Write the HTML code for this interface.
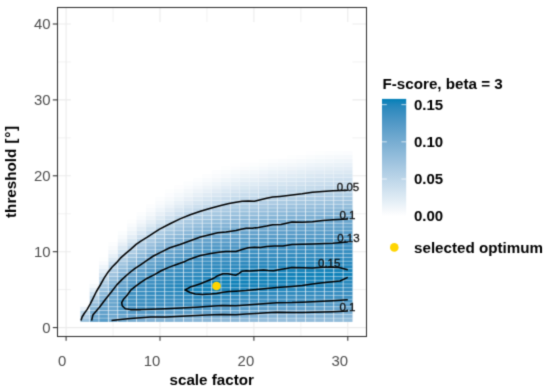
<!DOCTYPE html>
<html><head><meta charset="utf-8"><title>F-score heatmap</title><style>html,body{margin:0;padding:0;background:#fff;}svg{display:block;filter:none;}</style></head><body>
<svg width="550" height="392" viewBox="0 0 550 392">
<defs><filter id="soft" x="0" y="0" width="550" height="392" filterUnits="userSpaceOnUse" color-interpolation-filters="sRGB"><feConvolveMatrix order="3" kernelMatrix="0.0225 0.1050 0.0225 0.1050 0.4900 0.1050 0.0225 0.1050 0.0225" divisor="1" edgeMode="duplicate"/></filter></defs>
<g filter="url(#soft)">
<rect x="0" y="0" width="550" height="392" fill="#FFFFFF"/>
<g stroke="#EDEDED" stroke-width="0.75"><line x1="113.05" y1="7.5" x2="113.05" y2="336.5"/><line x1="206.95" y1="7.5" x2="206.95" y2="336.5"/><line x1="300.85" y1="7.5" x2="300.85" y2="336.5"/><line x1="57.5" y1="289.65" x2="366.5" y2="289.65"/><line x1="57.5" y1="213.75" x2="366.5" y2="213.75"/><line x1="57.5" y1="137.85" x2="366.5" y2="137.85"/><line x1="57.5" y1="61.95" x2="366.5" y2="61.95"/></g>
<g stroke="#EBEBEB" stroke-width="1.07"><line x1="66.10" y1="7.5" x2="66.10" y2="336.5"/><line x1="160.00" y1="7.5" x2="160.00" y2="336.5"/><line x1="253.90" y1="7.5" x2="253.90" y2="336.5"/><line x1="347.80" y1="7.5" x2="347.80" y2="336.5"/><line x1="57.5" y1="327.60" x2="366.5" y2="327.60"/><line x1="57.5" y1="251.70" x2="366.5" y2="251.70"/><line x1="57.5" y1="175.80" x2="366.5" y2="175.80"/><line x1="57.5" y1="99.90" x2="366.5" y2="99.90"/><line x1="57.5" y1="24.00" x2="366.5" y2="24.00"/></g>
<rect x="70.79" y="22.10" width="281.70" height="299.81" fill="#FFFFFF"/>
<g><rect x="80.19" y="318.11" width="9.39" height="3.79" fill="#9ac1dd"/><rect x="80.19" y="314.32" width="9.39" height="3.79" fill="#aacae2"/><rect x="80.19" y="310.52" width="9.39" height="3.79" fill="#bbd5e8"/><rect x="80.19" y="306.73" width="9.39" height="3.79" fill="#e9f1f8"/><rect x="80.19" y="302.93" width="9.39" height="3.79" fill="#fdfefe"/><rect x="89.57" y="318.11" width="9.39" height="3.79" fill="#68a4cd"/><rect x="89.57" y="314.32" width="9.39" height="3.79" fill="#6da7cf"/><rect x="89.57" y="310.52" width="9.39" height="3.79" fill="#74abd1"/><rect x="89.57" y="306.73" width="9.39" height="3.79" fill="#84b4d6"/><rect x="89.57" y="302.93" width="9.39" height="3.79" fill="#94bddb"/><rect x="89.57" y="299.14" width="9.39" height="3.79" fill="#a4c7e0"/><rect x="89.57" y="295.34" width="9.39" height="3.79" fill="#b4d0e6"/><rect x="89.57" y="291.55" width="9.39" height="3.79" fill="#ccdfee"/><rect x="89.57" y="287.75" width="9.39" height="3.79" fill="#e4eef6"/><rect x="89.57" y="283.96" width="9.39" height="3.79" fill="#f4f8fb"/><rect x="89.57" y="280.16" width="9.39" height="3.79" fill="#fcfdfe"/><rect x="98.97" y="318.11" width="9.39" height="3.79" fill="#579cc8"/><rect x="98.97" y="314.32" width="9.39" height="3.79" fill="#5d9fca"/><rect x="98.97" y="310.52" width="9.39" height="3.79" fill="#62a1cb"/><rect x="98.97" y="306.73" width="9.39" height="3.79" fill="#67a4cd"/><rect x="98.97" y="302.93" width="9.39" height="3.79" fill="#6ca7cf"/><rect x="98.97" y="299.14" width="9.39" height="3.79" fill="#73aad1"/><rect x="98.97" y="295.34" width="9.39" height="3.79" fill="#7fb1d4"/><rect x="98.97" y="291.55" width="9.39" height="3.79" fill="#8bb8d8"/><rect x="98.97" y="287.75" width="9.39" height="3.79" fill="#97bfdc"/><rect x="98.97" y="283.96" width="9.39" height="3.79" fill="#a3c6e0"/><rect x="98.97" y="280.16" width="9.39" height="3.79" fill="#b0cee4"/><rect x="98.97" y="276.37" width="9.39" height="3.79" fill="#bed6e9"/><rect x="98.97" y="272.57" width="9.39" height="3.79" fill="#d3e3f0"/><rect x="98.97" y="268.78" width="9.39" height="3.79" fill="#e3edf6"/><rect x="98.97" y="264.98" width="9.39" height="3.79" fill="#eff5fa"/><rect x="98.97" y="261.19" width="9.39" height="3.79" fill="#f8fafd"/><rect x="98.97" y="257.39" width="9.39" height="3.79" fill="#fdfefe"/><rect x="108.35" y="318.11" width="9.39" height="3.79" fill="#70a9d0"/><rect x="108.35" y="314.32" width="9.39" height="3.79" fill="#6ea8cf"/><rect x="108.35" y="310.52" width="9.39" height="3.79" fill="#6ca7cf"/><rect x="108.35" y="306.73" width="9.39" height="3.79" fill="#6aa6ce"/><rect x="108.35" y="302.93" width="9.39" height="3.79" fill="#68a5cd"/><rect x="108.35" y="299.14" width="9.39" height="3.79" fill="#6aa6ce"/><rect x="108.35" y="295.34" width="9.39" height="3.79" fill="#6ca7cf"/><rect x="108.35" y="291.55" width="9.39" height="3.79" fill="#6fa8cf"/><rect x="108.35" y="287.75" width="9.39" height="3.79" fill="#71a9d0"/><rect x="108.35" y="283.96" width="9.39" height="3.79" fill="#7db0d4"/><rect x="108.35" y="280.16" width="9.39" height="3.79" fill="#89b7d7"/><rect x="108.35" y="276.37" width="9.39" height="3.79" fill="#94bddb"/><rect x="108.35" y="272.57" width="9.39" height="3.79" fill="#a0c4df"/><rect x="108.35" y="268.78" width="9.39" height="3.79" fill="#accbe3"/><rect x="108.35" y="264.98" width="9.39" height="3.79" fill="#b7d2e7"/><rect x="108.35" y="261.19" width="9.39" height="3.79" fill="#c9dded"/><rect x="108.35" y="257.39" width="9.39" height="3.79" fill="#dae8f2"/><rect x="108.35" y="253.60" width="9.39" height="3.79" fill="#e7f0f7"/><rect x="108.35" y="249.80" width="9.39" height="3.79" fill="#f1f6fa"/><rect x="108.35" y="246.01" width="9.39" height="3.79" fill="#f8fafc"/><rect x="108.35" y="242.21" width="9.39" height="3.79" fill="#fcfdfe"/><rect x="117.75" y="318.11" width="9.39" height="3.79" fill="#73abd1"/><rect x="117.75" y="314.32" width="9.39" height="3.79" fill="#66a4cd"/><rect x="117.75" y="310.52" width="9.39" height="3.79" fill="#5a9dc9"/><rect x="117.75" y="306.73" width="9.39" height="3.79" fill="#4d97c5"/><rect x="117.75" y="302.93" width="9.39" height="3.79" fill="#4392c3"/><rect x="117.75" y="299.14" width="9.39" height="3.79" fill="#4393c3"/><rect x="117.75" y="295.34" width="9.39" height="3.79" fill="#4c96c5"/><rect x="117.75" y="291.55" width="9.39" height="3.79" fill="#539ac7"/><rect x="117.75" y="287.75" width="9.39" height="3.79" fill="#5b9ec9"/><rect x="117.75" y="283.96" width="9.39" height="3.79" fill="#63a2cc"/><rect x="117.75" y="280.16" width="9.39" height="3.79" fill="#6ba6ce"/><rect x="117.75" y="276.37" width="9.39" height="3.79" fill="#73abd1"/><rect x="117.75" y="272.57" width="9.39" height="3.79" fill="#7fb1d5"/><rect x="117.75" y="268.78" width="9.39" height="3.79" fill="#8cb8d8"/><rect x="117.75" y="264.98" width="9.39" height="3.79" fill="#98c0dc"/><rect x="117.75" y="261.19" width="9.39" height="3.79" fill="#a4c7e0"/><rect x="117.75" y="257.39" width="9.39" height="3.79" fill="#b0cee4"/><rect x="117.75" y="253.60" width="9.39" height="3.79" fill="#bed6e9"/><rect x="117.75" y="249.80" width="9.39" height="3.79" fill="#cee1ef"/><rect x="117.75" y="246.01" width="9.39" height="3.79" fill="#dce9f3"/><rect x="117.75" y="242.21" width="9.39" height="3.79" fill="#e8f0f7"/><rect x="117.75" y="238.42" width="9.39" height="3.79" fill="#f1f6fa"/><rect x="117.75" y="234.62" width="9.39" height="3.79" fill="#f7fafc"/><rect x="117.75" y="230.83" width="9.39" height="3.79" fill="#fbfdfe"/><rect x="127.13" y="318.11" width="9.39" height="3.79" fill="#79aed2"/><rect x="127.13" y="314.32" width="9.39" height="3.79" fill="#66a3cd"/><rect x="127.13" y="310.52" width="9.39" height="3.79" fill="#5299c7"/><rect x="127.13" y="306.73" width="9.39" height="3.79" fill="#4392c3"/><rect x="127.13" y="302.93" width="9.39" height="3.79" fill="#4191c2"/><rect x="127.13" y="299.14" width="9.39" height="3.79" fill="#3f91c2"/><rect x="127.13" y="295.34" width="9.39" height="3.79" fill="#3f91c2"/><rect x="127.13" y="291.55" width="9.39" height="3.79" fill="#4192c2"/><rect x="127.13" y="287.75" width="9.39" height="3.79" fill="#4392c3"/><rect x="127.13" y="283.96" width="9.39" height="3.79" fill="#4c96c5"/><rect x="127.13" y="280.16" width="9.39" height="3.79" fill="#559bc8"/><rect x="127.13" y="276.37" width="9.39" height="3.79" fill="#5fa0cb"/><rect x="127.13" y="272.57" width="9.39" height="3.79" fill="#68a5cd"/><rect x="127.13" y="268.78" width="9.39" height="3.79" fill="#72aad0"/><rect x="127.13" y="264.98" width="9.39" height="3.79" fill="#7eb1d4"/><rect x="127.13" y="261.19" width="9.39" height="3.79" fill="#8ab7d8"/><rect x="127.13" y="257.39" width="9.39" height="3.79" fill="#96bfdc"/><rect x="127.13" y="253.60" width="9.39" height="3.79" fill="#a2c6e0"/><rect x="127.13" y="249.80" width="9.39" height="3.79" fill="#aecde4"/><rect x="127.13" y="246.01" width="9.39" height="3.79" fill="#bbd4e8"/><rect x="127.13" y="242.21" width="9.39" height="3.79" fill="#cbdeed"/><rect x="127.13" y="238.42" width="9.39" height="3.79" fill="#d9e7f2"/><rect x="127.13" y="234.62" width="9.39" height="3.79" fill="#e4eef6"/><rect x="127.13" y="230.83" width="9.39" height="3.79" fill="#edf4f9"/><rect x="127.13" y="227.03" width="9.39" height="3.79" fill="#f4f8fb"/><rect x="127.13" y="223.24" width="9.39" height="3.79" fill="#f9fbfd"/><rect x="127.13" y="219.44" width="9.39" height="3.79" fill="#fdfefe"/><rect x="136.53" y="318.11" width="9.39" height="3.79" fill="#7db0d4"/><rect x="136.53" y="314.32" width="9.39" height="3.79" fill="#69a5cd"/><rect x="136.53" y="310.52" width="9.39" height="3.79" fill="#549ac7"/><rect x="136.53" y="306.73" width="9.39" height="3.79" fill="#4292c3"/><rect x="136.53" y="302.93" width="9.39" height="3.79" fill="#4091c2"/><rect x="136.53" y="299.14" width="9.39" height="3.79" fill="#3d90c1"/><rect x="136.53" y="295.34" width="9.39" height="3.79" fill="#3a8fc1"/><rect x="136.53" y="291.55" width="9.39" height="3.79" fill="#3b8fc1"/><rect x="136.53" y="287.75" width="9.39" height="3.79" fill="#3e90c1"/><rect x="136.53" y="283.96" width="9.39" height="3.79" fill="#4091c2"/><rect x="136.53" y="280.16" width="9.39" height="3.79" fill="#4393c3"/><rect x="136.53" y="276.37" width="9.39" height="3.79" fill="#4d97c6"/><rect x="136.53" y="272.57" width="9.39" height="3.79" fill="#579cc8"/><rect x="136.53" y="268.78" width="9.39" height="3.79" fill="#61a1cb"/><rect x="136.53" y="264.98" width="9.39" height="3.79" fill="#6aa6ce"/><rect x="136.53" y="261.19" width="9.39" height="3.79" fill="#75abd1"/><rect x="136.53" y="257.39" width="9.39" height="3.79" fill="#80b2d5"/><rect x="136.53" y="253.60" width="9.39" height="3.79" fill="#8cb9d9"/><rect x="136.53" y="249.80" width="9.39" height="3.79" fill="#98c0dc"/><rect x="136.53" y="246.01" width="9.39" height="3.79" fill="#a4c6e0"/><rect x="136.53" y="242.21" width="9.39" height="3.79" fill="#afcde4"/><rect x="136.53" y="238.42" width="9.39" height="3.79" fill="#bbd5e8"/><rect x="136.53" y="234.62" width="9.39" height="3.79" fill="#cbdeed"/><rect x="136.53" y="230.83" width="9.39" height="3.79" fill="#d8e6f2"/><rect x="136.53" y="227.03" width="9.39" height="3.79" fill="#e3edf5"/><rect x="136.53" y="223.24" width="9.39" height="3.79" fill="#ecf3f8"/><rect x="136.53" y="219.44" width="9.39" height="3.79" fill="#f3f7fb"/><rect x="136.53" y="215.65" width="9.39" height="3.79" fill="#f8fbfd"/><rect x="136.53" y="211.85" width="9.39" height="3.79" fill="#fcfdfe"/><rect x="145.91" y="318.11" width="9.39" height="3.79" fill="#81b2d5"/><rect x="145.91" y="314.32" width="9.39" height="3.79" fill="#6ca6ce"/><rect x="145.91" y="310.52" width="9.39" height="3.79" fill="#569bc8"/><rect x="145.91" y="306.73" width="9.39" height="3.79" fill="#4292c3"/><rect x="145.91" y="302.93" width="9.39" height="3.79" fill="#3f91c2"/><rect x="145.91" y="299.14" width="9.39" height="3.79" fill="#3b8fc1"/><rect x="145.91" y="295.34" width="9.39" height="3.79" fill="#388ec0"/><rect x="145.91" y="291.55" width="9.39" height="3.79" fill="#348cbf"/><rect x="145.91" y="287.75" width="9.39" height="3.79" fill="#378dc0"/><rect x="145.91" y="283.96" width="9.39" height="3.79" fill="#3a8fc1"/><rect x="145.91" y="280.16" width="9.39" height="3.79" fill="#3e90c2"/><rect x="145.91" y="276.37" width="9.39" height="3.79" fill="#4192c2"/><rect x="145.91" y="272.57" width="9.39" height="3.79" fill="#4895c4"/><rect x="145.91" y="268.78" width="9.39" height="3.79" fill="#5299c7"/><rect x="145.91" y="264.98" width="9.39" height="3.79" fill="#5b9ec9"/><rect x="145.91" y="261.19" width="9.39" height="3.79" fill="#64a3cc"/><rect x="145.91" y="257.39" width="9.39" height="3.79" fill="#6da7cf"/><rect x="145.91" y="253.60" width="9.39" height="3.79" fill="#78add2"/><rect x="145.91" y="249.80" width="9.39" height="3.79" fill="#84b4d6"/><rect x="145.91" y="246.01" width="9.39" height="3.79" fill="#91bbda"/><rect x="145.91" y="242.21" width="9.39" height="3.79" fill="#9dc2de"/><rect x="145.91" y="238.42" width="9.39" height="3.79" fill="#a9c9e2"/><rect x="145.91" y="234.62" width="9.39" height="3.79" fill="#b4d1e6"/><rect x="145.91" y="230.83" width="9.39" height="3.79" fill="#c2d9eb"/><rect x="145.91" y="227.03" width="9.39" height="3.79" fill="#d0e2ef"/><rect x="145.91" y="223.24" width="9.39" height="3.79" fill="#dce9f3"/><rect x="145.91" y="219.44" width="9.39" height="3.79" fill="#e6eff6"/><rect x="145.91" y="215.65" width="9.39" height="3.79" fill="#eef4f9"/><rect x="145.91" y="211.85" width="9.39" height="3.79" fill="#f4f8fb"/><rect x="145.91" y="208.06" width="9.39" height="3.79" fill="#f9fbfd"/><rect x="145.91" y="204.26" width="9.39" height="3.79" fill="#fcfdfe"/><rect x="155.31" y="318.11" width="9.39" height="3.79" fill="#81b3d5"/><rect x="155.31" y="314.32" width="9.39" height="3.79" fill="#6ca7cf"/><rect x="155.31" y="310.52" width="9.39" height="3.79" fill="#579cc8"/><rect x="155.31" y="306.73" width="9.39" height="3.79" fill="#4392c3"/><rect x="155.31" y="302.93" width="9.39" height="3.79" fill="#3f90c2"/><rect x="155.31" y="299.14" width="9.39" height="3.79" fill="#3a8fc1"/><rect x="155.31" y="295.34" width="9.39" height="3.79" fill="#368dc0"/><rect x="155.31" y="291.55" width="9.39" height="3.79" fill="#328bbf"/><rect x="155.31" y="287.75" width="9.39" height="3.79" fill="#2f8abe"/><rect x="155.31" y="283.96" width="9.39" height="3.79" fill="#338cbf"/><rect x="155.31" y="280.16" width="9.39" height="3.79" fill="#388ec0"/><rect x="155.31" y="276.37" width="9.39" height="3.79" fill="#3c8fc1"/><rect x="155.31" y="272.57" width="9.39" height="3.79" fill="#4091c2"/><rect x="155.31" y="268.78" width="9.39" height="3.79" fill="#4593c3"/><rect x="155.31" y="264.98" width="9.39" height="3.79" fill="#4e98c6"/><rect x="155.31" y="261.19" width="9.39" height="3.79" fill="#589cc8"/><rect x="155.31" y="257.39" width="9.39" height="3.79" fill="#61a1cb"/><rect x="155.31" y="253.60" width="9.39" height="3.79" fill="#6aa6ce"/><rect x="155.31" y="249.80" width="9.39" height="3.79" fill="#74abd1"/><rect x="155.31" y="246.01" width="9.39" height="3.79" fill="#7fb1d5"/><rect x="155.31" y="242.21" width="9.39" height="3.79" fill="#8bb8d8"/><rect x="155.31" y="238.42" width="9.39" height="3.79" fill="#97bfdc"/><rect x="155.31" y="234.62" width="9.39" height="3.79" fill="#a2c6e0"/><rect x="155.31" y="230.83" width="9.39" height="3.79" fill="#aecde4"/><rect x="155.31" y="227.03" width="9.39" height="3.79" fill="#b9d4e7"/><rect x="155.31" y="223.24" width="9.39" height="3.79" fill="#c7dcec"/><rect x="155.31" y="219.44" width="9.39" height="3.79" fill="#d4e4f0"/><rect x="155.31" y="215.65" width="9.39" height="3.79" fill="#dfebf4"/><rect x="155.31" y="211.85" width="9.39" height="3.79" fill="#e8f0f7"/><rect x="155.31" y="208.06" width="9.39" height="3.79" fill="#eff5fa"/><rect x="155.31" y="204.26" width="9.39" height="3.79" fill="#f5f9fc"/><rect x="155.31" y="200.47" width="9.39" height="3.79" fill="#f9fbfd"/><rect x="155.31" y="196.67" width="9.39" height="3.79" fill="#fcfdfe"/><rect x="164.69" y="318.11" width="9.39" height="3.79" fill="#82b3d5"/><rect x="164.69" y="314.32" width="9.39" height="3.79" fill="#6da8cf"/><rect x="164.69" y="310.52" width="9.39" height="3.79" fill="#599dc9"/><rect x="164.69" y="306.73" width="9.39" height="3.79" fill="#4392c3"/><rect x="164.69" y="302.93" width="9.39" height="3.79" fill="#3e90c2"/><rect x="164.69" y="299.14" width="9.39" height="3.79" fill="#3a8ec1"/><rect x="164.69" y="295.34" width="9.39" height="3.79" fill="#358dbf"/><rect x="164.69" y="291.55" width="9.39" height="3.79" fill="#308bbe"/><rect x="164.69" y="287.75" width="9.39" height="3.79" fill="#2b89bd"/><rect x="164.69" y="283.96" width="9.39" height="3.79" fill="#2b89bd"/><rect x="164.69" y="280.16" width="9.39" height="3.79" fill="#308bbe"/><rect x="164.69" y="276.37" width="9.39" height="3.79" fill="#358dbf"/><rect x="164.69" y="272.57" width="9.39" height="3.79" fill="#3a8fc1"/><rect x="164.69" y="268.78" width="9.39" height="3.79" fill="#3f91c2"/><rect x="164.69" y="264.98" width="9.39" height="3.79" fill="#4493c3"/><rect x="164.69" y="261.19" width="9.39" height="3.79" fill="#4d97c5"/><rect x="164.69" y="257.39" width="9.39" height="3.79" fill="#569bc8"/><rect x="164.69" y="253.60" width="9.39" height="3.79" fill="#5fa0cb"/><rect x="164.69" y="249.80" width="9.39" height="3.79" fill="#68a5cd"/><rect x="164.69" y="246.01" width="9.39" height="3.79" fill="#71a9d0"/><rect x="164.69" y="242.21" width="9.39" height="3.79" fill="#7db0d4"/><rect x="164.69" y="238.42" width="9.39" height="3.79" fill="#88b6d7"/><rect x="164.69" y="234.62" width="9.39" height="3.79" fill="#94bddb"/><rect x="164.69" y="230.83" width="9.39" height="3.79" fill="#9fc4df"/><rect x="164.69" y="227.03" width="9.39" height="3.79" fill="#abcbe3"/><rect x="164.69" y="223.24" width="9.39" height="3.79" fill="#b6d2e6"/><rect x="164.69" y="219.44" width="9.39" height="3.79" fill="#c3daeb"/><rect x="164.69" y="215.65" width="9.39" height="3.79" fill="#d0e1ef"/><rect x="164.69" y="211.85" width="9.39" height="3.79" fill="#dbe8f3"/><rect x="164.69" y="208.06" width="9.39" height="3.79" fill="#e4eef6"/><rect x="164.69" y="204.26" width="9.39" height="3.79" fill="#ecf3f9"/><rect x="164.69" y="200.47" width="9.39" height="3.79" fill="#f2f7fb"/><rect x="164.69" y="196.67" width="9.39" height="3.79" fill="#f7fafc"/><rect x="164.69" y="192.88" width="9.39" height="3.79" fill="#fbfcfe"/><rect x="164.69" y="189.08" width="9.39" height="3.79" fill="#fdfefe"/><rect x="174.09" y="318.11" width="9.39" height="3.79" fill="#83b4d6"/><rect x="174.09" y="314.32" width="9.39" height="3.79" fill="#6fa9cf"/><rect x="174.09" y="310.52" width="9.39" height="3.79" fill="#5b9ec9"/><rect x="174.09" y="306.73" width="9.39" height="3.79" fill="#4694c4"/><rect x="174.09" y="302.93" width="9.39" height="3.79" fill="#3f90c2"/><rect x="174.09" y="299.14" width="9.39" height="3.79" fill="#398ec0"/><rect x="174.09" y="295.34" width="9.39" height="3.79" fill="#348cbf"/><rect x="174.09" y="291.55" width="9.39" height="3.79" fill="#2e8abe"/><rect x="174.09" y="287.75" width="9.39" height="3.79" fill="#2888bd"/><rect x="174.09" y="283.96" width="9.39" height="3.79" fill="#2286bc"/><rect x="174.09" y="280.16" width="9.39" height="3.79" fill="#2988bd"/><rect x="174.09" y="276.37" width="9.39" height="3.79" fill="#2f8abe"/><rect x="174.09" y="272.57" width="9.39" height="3.79" fill="#348cbf"/><rect x="174.09" y="268.78" width="9.39" height="3.79" fill="#3a8ec0"/><rect x="174.09" y="264.98" width="9.39" height="3.79" fill="#3f91c2"/><rect x="174.09" y="261.19" width="9.39" height="3.79" fill="#4593c3"/><rect x="174.09" y="257.39" width="9.39" height="3.79" fill="#4e98c6"/><rect x="174.09" y="253.60" width="9.39" height="3.79" fill="#579cc8"/><rect x="174.09" y="249.80" width="9.39" height="3.79" fill="#61a1cb"/><rect x="174.09" y="246.01" width="9.39" height="3.79" fill="#6aa5ce"/><rect x="174.09" y="242.21" width="9.39" height="3.79" fill="#73aad1"/><rect x="174.09" y="238.42" width="9.39" height="3.79" fill="#7eb1d4"/><rect x="174.09" y="234.62" width="9.39" height="3.79" fill="#89b7d8"/><rect x="174.09" y="230.83" width="9.39" height="3.79" fill="#94bddb"/><rect x="174.09" y="227.03" width="9.39" height="3.79" fill="#9fc3df"/><rect x="174.09" y="223.24" width="9.39" height="3.79" fill="#a9cae2"/><rect x="174.09" y="219.44" width="9.39" height="3.79" fill="#b4d0e6"/><rect x="174.09" y="215.65" width="9.39" height="3.79" fill="#c0d8ea"/><rect x="174.09" y="211.85" width="9.39" height="3.79" fill="#cddfee"/><rect x="174.09" y="208.06" width="9.39" height="3.79" fill="#d8e6f2"/><rect x="174.09" y="204.26" width="9.39" height="3.79" fill="#e1ecf5"/><rect x="174.09" y="200.47" width="9.39" height="3.79" fill="#e9f1f8"/><rect x="174.09" y="196.67" width="9.39" height="3.79" fill="#f0f6fa"/><rect x="174.09" y="192.88" width="9.39" height="3.79" fill="#f5f9fc"/><rect x="174.09" y="189.08" width="9.39" height="3.79" fill="#fafcfd"/><rect x="174.09" y="185.29" width="9.39" height="3.79" fill="#fdfdfe"/><rect x="183.47" y="318.11" width="9.39" height="3.79" fill="#86b5d7"/><rect x="183.47" y="314.32" width="9.39" height="3.79" fill="#72aad0"/><rect x="183.47" y="310.52" width="9.39" height="3.79" fill="#5e9fca"/><rect x="183.47" y="306.73" width="9.39" height="3.79" fill="#4995c4"/><rect x="183.47" y="302.93" width="9.39" height="3.79" fill="#3d90c1"/><rect x="183.47" y="299.14" width="9.39" height="3.79" fill="#358dbf"/><rect x="183.47" y="295.34" width="9.39" height="3.79" fill="#2d89be"/><rect x="183.47" y="291.55" width="9.39" height="3.79" fill="#2386bc"/><rect x="183.47" y="287.75" width="9.39" height="3.79" fill="#1b84ba"/><rect x="183.47" y="283.96" width="9.39" height="3.79" fill="#2286bb"/><rect x="183.47" y="280.16" width="9.39" height="3.79" fill="#2788bd"/><rect x="183.47" y="276.37" width="9.39" height="3.79" fill="#2d89be"/><rect x="183.47" y="272.57" width="9.39" height="3.79" fill="#328bbf"/><rect x="183.47" y="268.78" width="9.39" height="3.79" fill="#368dc0"/><rect x="183.47" y="264.98" width="9.39" height="3.79" fill="#3b8fc1"/><rect x="183.47" y="261.19" width="9.39" height="3.79" fill="#3f91c2"/><rect x="183.47" y="257.39" width="9.39" height="3.79" fill="#4593c3"/><rect x="183.47" y="253.60" width="9.39" height="3.79" fill="#4e98c6"/><rect x="183.47" y="249.80" width="9.39" height="3.79" fill="#589cc8"/><rect x="183.47" y="246.01" width="9.39" height="3.79" fill="#61a1cb"/><rect x="183.47" y="242.21" width="9.39" height="3.79" fill="#6aa6ce"/><rect x="183.47" y="238.42" width="9.39" height="3.79" fill="#74abd1"/><rect x="183.47" y="234.62" width="9.39" height="3.79" fill="#7fb1d4"/><rect x="183.47" y="230.83" width="9.39" height="3.79" fill="#89b7d8"/><rect x="183.47" y="227.03" width="9.39" height="3.79" fill="#94bddb"/><rect x="183.47" y="223.24" width="9.39" height="3.79" fill="#9fc4df"/><rect x="183.47" y="219.44" width="9.39" height="3.79" fill="#a9cae2"/><rect x="183.47" y="215.65" width="9.39" height="3.79" fill="#b4d0e6"/><rect x="183.47" y="211.85" width="9.39" height="3.79" fill="#c0d7ea"/><rect x="183.47" y="208.06" width="9.39" height="3.79" fill="#ccdfee"/><rect x="183.47" y="204.26" width="9.39" height="3.79" fill="#d6e5f1"/><rect x="183.47" y="200.47" width="9.39" height="3.79" fill="#e0ebf4"/><rect x="183.47" y="196.67" width="9.39" height="3.79" fill="#e8f0f7"/><rect x="183.47" y="192.88" width="9.39" height="3.79" fill="#eff5f9"/><rect x="183.47" y="189.08" width="9.39" height="3.79" fill="#f4f8fb"/><rect x="183.47" y="185.29" width="9.39" height="3.79" fill="#f9fbfd"/><rect x="183.47" y="181.49" width="9.39" height="3.79" fill="#fcfdfe"/><rect x="192.87" y="318.11" width="9.39" height="3.79" fill="#88b6d7"/><rect x="192.87" y="314.32" width="9.39" height="3.79" fill="#74abd1"/><rect x="192.87" y="310.52" width="9.39" height="3.79" fill="#60a0cb"/><rect x="192.87" y="306.73" width="9.39" height="3.79" fill="#4b96c5"/><rect x="192.87" y="302.93" width="9.39" height="3.79" fill="#3d90c1"/><rect x="192.87" y="299.14" width="9.39" height="3.79" fill="#338cbf"/><rect x="192.87" y="295.34" width="9.39" height="3.79" fill="#2888bd"/><rect x="192.87" y="291.55" width="9.39" height="3.79" fill="#1c84bb"/><rect x="192.87" y="287.75" width="9.39" height="3.79" fill="#1482b9"/><rect x="192.87" y="283.96" width="9.39" height="3.79" fill="#1b84ba"/><rect x="192.87" y="280.16" width="9.39" height="3.79" fill="#2286bc"/><rect x="192.87" y="276.37" width="9.39" height="3.79" fill="#2888bd"/><rect x="192.87" y="272.57" width="9.39" height="3.79" fill="#2d8abe"/><rect x="192.87" y="268.78" width="9.39" height="3.79" fill="#328bbf"/><rect x="192.87" y="264.98" width="9.39" height="3.79" fill="#378dc0"/><rect x="192.87" y="261.19" width="9.39" height="3.79" fill="#3b8fc1"/><rect x="192.87" y="257.39" width="9.39" height="3.79" fill="#4091c2"/><rect x="192.87" y="253.60" width="9.39" height="3.79" fill="#4594c3"/><rect x="192.87" y="249.80" width="9.39" height="3.79" fill="#4f98c6"/><rect x="192.87" y="246.01" width="9.39" height="3.79" fill="#599dc9"/><rect x="192.87" y="242.21" width="9.39" height="3.79" fill="#62a1cb"/><rect x="192.87" y="238.42" width="9.39" height="3.79" fill="#6ba6ce"/><rect x="192.87" y="234.62" width="9.39" height="3.79" fill="#75acd1"/><rect x="192.87" y="230.83" width="9.39" height="3.79" fill="#80b2d5"/><rect x="192.87" y="227.03" width="9.39" height="3.79" fill="#8bb8d8"/><rect x="192.87" y="223.24" width="9.39" height="3.79" fill="#95bedc"/><rect x="192.87" y="219.44" width="9.39" height="3.79" fill="#a0c4df"/><rect x="192.87" y="215.65" width="9.39" height="3.79" fill="#aacbe3"/><rect x="192.87" y="211.85" width="9.39" height="3.79" fill="#b5d1e6"/><rect x="192.87" y="208.06" width="9.39" height="3.79" fill="#c1d8ea"/><rect x="192.87" y="204.26" width="9.39" height="3.79" fill="#ccdfee"/><rect x="192.87" y="200.47" width="9.39" height="3.79" fill="#d6e5f1"/><rect x="192.87" y="196.67" width="9.39" height="3.79" fill="#dfebf4"/><rect x="192.87" y="192.88" width="9.39" height="3.79" fill="#e7f0f7"/><rect x="192.87" y="189.08" width="9.39" height="3.79" fill="#eef4f9"/><rect x="192.87" y="185.29" width="9.39" height="3.79" fill="#f4f8fb"/><rect x="192.87" y="181.49" width="9.39" height="3.79" fill="#f8fbfd"/><rect x="192.87" y="177.70" width="9.39" height="3.79" fill="#fcfdfe"/><rect x="202.25" y="318.11" width="9.39" height="3.79" fill="#8ab7d8"/><rect x="202.25" y="314.32" width="9.39" height="3.79" fill="#76acd2"/><rect x="202.25" y="310.52" width="9.39" height="3.79" fill="#63a2cc"/><rect x="202.25" y="306.73" width="9.39" height="3.79" fill="#4f98c6"/><rect x="202.25" y="302.93" width="9.39" height="3.79" fill="#3f90c2"/><rect x="202.25" y="299.14" width="9.39" height="3.79" fill="#348cbf"/><rect x="202.25" y="295.34" width="9.39" height="3.79" fill="#2888bd"/><rect x="202.25" y="291.55" width="9.39" height="3.79" fill="#1c84bb"/><rect x="202.25" y="287.75" width="9.39" height="3.79" fill="#1382b9"/><rect x="202.25" y="283.96" width="9.39" height="3.79" fill="#1382b9"/><rect x="202.25" y="280.16" width="9.39" height="3.79" fill="#1c84bb"/><rect x="202.25" y="276.37" width="9.39" height="3.79" fill="#2386bc"/><rect x="202.25" y="272.57" width="9.39" height="3.79" fill="#2888bd"/><rect x="202.25" y="268.78" width="9.39" height="3.79" fill="#2e8abe"/><rect x="202.25" y="264.98" width="9.39" height="3.79" fill="#338cbf"/><rect x="202.25" y="261.19" width="9.39" height="3.79" fill="#388ec0"/><rect x="202.25" y="257.39" width="9.39" height="3.79" fill="#3d90c1"/><rect x="202.25" y="253.60" width="9.39" height="3.79" fill="#4192c2"/><rect x="202.25" y="249.80" width="9.39" height="3.79" fill="#4995c4"/><rect x="202.25" y="246.01" width="9.39" height="3.79" fill="#539ac7"/><rect x="202.25" y="242.21" width="9.39" height="3.79" fill="#5c9eca"/><rect x="202.25" y="238.42" width="9.39" height="3.79" fill="#65a3cc"/><rect x="202.25" y="234.62" width="9.39" height="3.79" fill="#6ea8cf"/><rect x="202.25" y="230.83" width="9.39" height="3.79" fill="#78aed2"/><rect x="202.25" y="227.03" width="9.39" height="3.79" fill="#83b3d6"/><rect x="202.25" y="223.24" width="9.39" height="3.79" fill="#8ebad9"/><rect x="202.25" y="219.44" width="9.39" height="3.79" fill="#98c0dd"/><rect x="202.25" y="215.65" width="9.39" height="3.79" fill="#a3c6e0"/><rect x="202.25" y="211.85" width="9.39" height="3.79" fill="#adcce3"/><rect x="202.25" y="208.06" width="9.39" height="3.79" fill="#b7d2e7"/><rect x="202.25" y="204.26" width="9.39" height="3.79" fill="#c3d9eb"/><rect x="202.25" y="200.47" width="9.39" height="3.79" fill="#cee0ee"/><rect x="202.25" y="196.67" width="9.39" height="3.79" fill="#d7e6f2"/><rect x="202.25" y="192.88" width="9.39" height="3.79" fill="#e0ebf4"/><rect x="202.25" y="189.08" width="9.39" height="3.79" fill="#e8f0f7"/><rect x="202.25" y="185.29" width="9.39" height="3.79" fill="#eef4f9"/><rect x="202.25" y="181.49" width="9.39" height="3.79" fill="#f4f8fb"/><rect x="202.25" y="177.70" width="9.39" height="3.79" fill="#f8fbfd"/><rect x="202.25" y="173.90" width="9.39" height="3.79" fill="#fcfdfe"/><rect x="211.65" y="318.11" width="9.39" height="3.79" fill="#8bb8d8"/><rect x="211.65" y="314.32" width="9.39" height="3.79" fill="#78aed2"/><rect x="211.65" y="310.52" width="9.39" height="3.79" fill="#65a3cc"/><rect x="211.65" y="306.73" width="9.39" height="3.79" fill="#5299c7"/><rect x="211.65" y="302.93" width="9.39" height="3.79" fill="#4091c2"/><rect x="211.65" y="299.14" width="9.39" height="3.79" fill="#368dc0"/><rect x="211.65" y="295.34" width="9.39" height="3.79" fill="#2a89bd"/><rect x="211.65" y="291.55" width="9.39" height="3.79" fill="#1d85bb"/><rect x="211.65" y="287.75" width="9.39" height="3.79" fill="#1583ba"/><rect x="211.65" y="283.96" width="9.39" height="3.79" fill="#0881b8"/><rect x="211.65" y="280.16" width="9.39" height="3.79" fill="#1082b9"/><rect x="211.65" y="276.37" width="9.39" height="3.79" fill="#1a84ba"/><rect x="211.65" y="272.57" width="9.39" height="3.79" fill="#2286bc"/><rect x="211.65" y="268.78" width="9.39" height="3.79" fill="#2888bd"/><rect x="211.65" y="264.98" width="9.39" height="3.79" fill="#2f8abe"/><rect x="211.65" y="261.19" width="9.39" height="3.79" fill="#348cbf"/><rect x="211.65" y="257.39" width="9.39" height="3.79" fill="#3a8ec0"/><rect x="211.65" y="253.60" width="9.39" height="3.79" fill="#3f91c2"/><rect x="211.65" y="249.80" width="9.39" height="3.79" fill="#4593c3"/><rect x="211.65" y="246.01" width="9.39" height="3.79" fill="#4e98c6"/><rect x="211.65" y="242.21" width="9.39" height="3.79" fill="#579cc8"/><rect x="211.65" y="238.42" width="9.39" height="3.79" fill="#60a0cb"/><rect x="211.65" y="234.62" width="9.39" height="3.79" fill="#69a5ce"/><rect x="211.65" y="230.83" width="9.39" height="3.79" fill="#72aad0"/><rect x="211.65" y="227.03" width="9.39" height="3.79" fill="#7cb0d4"/><rect x="211.65" y="223.24" width="9.39" height="3.79" fill="#87b6d7"/><rect x="211.65" y="219.44" width="9.39" height="3.79" fill="#91bcda"/><rect x="211.65" y="215.65" width="9.39" height="3.79" fill="#9cc2de"/><rect x="211.65" y="211.85" width="9.39" height="3.79" fill="#a6c8e1"/><rect x="211.65" y="208.06" width="9.39" height="3.79" fill="#b1cee5"/><rect x="211.65" y="204.26" width="9.39" height="3.79" fill="#bbd5e8"/><rect x="211.65" y="200.47" width="9.39" height="3.79" fill="#c6dbec"/><rect x="211.65" y="196.67" width="9.39" height="3.79" fill="#d0e2ef"/><rect x="211.65" y="192.88" width="9.39" height="3.79" fill="#d9e7f2"/><rect x="211.65" y="189.08" width="9.39" height="3.79" fill="#e1ecf5"/><rect x="211.65" y="185.29" width="9.39" height="3.79" fill="#e9f1f7"/><rect x="211.65" y="181.49" width="9.39" height="3.79" fill="#eff5fa"/><rect x="211.65" y="177.70" width="9.39" height="3.79" fill="#f5f8fb"/><rect x="211.65" y="173.90" width="9.39" height="3.79" fill="#f9fbfd"/><rect x="211.65" y="170.11" width="9.39" height="3.79" fill="#fcfdfe"/><rect x="221.03" y="318.11" width="9.39" height="3.79" fill="#8cb8d8"/><rect x="221.03" y="314.32" width="9.39" height="3.79" fill="#79aed3"/><rect x="221.03" y="310.52" width="9.39" height="3.79" fill="#66a4cd"/><rect x="221.03" y="306.73" width="9.39" height="3.79" fill="#539ac7"/><rect x="221.03" y="302.93" width="9.39" height="3.79" fill="#4192c2"/><rect x="221.03" y="299.14" width="9.39" height="3.79" fill="#388ec0"/><rect x="221.03" y="295.34" width="9.39" height="3.79" fill="#2e8abe"/><rect x="221.03" y="291.55" width="9.39" height="3.79" fill="#2386bc"/><rect x="221.03" y="287.75" width="9.39" height="3.79" fill="#1a84ba"/><rect x="221.03" y="283.96" width="9.39" height="3.79" fill="#1483b9"/><rect x="221.03" y="280.16" width="9.39" height="3.79" fill="#0f82b9"/><rect x="221.03" y="276.37" width="9.39" height="3.79" fill="#1683ba"/><rect x="221.03" y="272.57" width="9.39" height="3.79" fill="#1d85bb"/><rect x="221.03" y="268.78" width="9.39" height="3.79" fill="#2487bc"/><rect x="221.03" y="264.98" width="9.39" height="3.79" fill="#2b89bd"/><rect x="221.03" y="261.19" width="9.39" height="3.79" fill="#318bbf"/><rect x="221.03" y="257.39" width="9.39" height="3.79" fill="#378dc0"/><rect x="221.03" y="253.60" width="9.39" height="3.79" fill="#3d90c1"/><rect x="221.03" y="249.80" width="9.39" height="3.79" fill="#4392c3"/><rect x="221.03" y="246.01" width="9.39" height="3.79" fill="#4c96c5"/><rect x="221.03" y="242.21" width="9.39" height="3.79" fill="#559bc8"/><rect x="221.03" y="238.42" width="9.39" height="3.79" fill="#5e9fca"/><rect x="221.03" y="234.62" width="9.39" height="3.79" fill="#66a4cd"/><rect x="221.03" y="230.83" width="9.39" height="3.79" fill="#6fa8cf"/><rect x="221.03" y="227.03" width="9.39" height="3.79" fill="#79aed2"/><rect x="221.03" y="223.24" width="9.39" height="3.79" fill="#83b3d6"/><rect x="221.03" y="219.44" width="9.39" height="3.79" fill="#8db9d9"/><rect x="221.03" y="215.65" width="9.39" height="3.79" fill="#97bfdc"/><rect x="221.03" y="211.85" width="9.39" height="3.79" fill="#a1c5df"/><rect x="221.03" y="208.06" width="9.39" height="3.79" fill="#abcbe3"/><rect x="221.03" y="204.26" width="9.39" height="3.79" fill="#b5d1e6"/><rect x="221.03" y="200.47" width="9.39" height="3.79" fill="#bfd7e9"/><rect x="221.03" y="196.67" width="9.39" height="3.79" fill="#c9dded"/><rect x="221.03" y="192.88" width="9.39" height="3.79" fill="#d3e3f0"/><rect x="221.03" y="189.08" width="9.39" height="3.79" fill="#dbe9f3"/><rect x="221.03" y="185.29" width="9.39" height="3.79" fill="#e3edf6"/><rect x="221.03" y="181.49" width="9.39" height="3.79" fill="#eaf2f8"/><rect x="221.03" y="177.70" width="9.39" height="3.79" fill="#f0f6fa"/><rect x="221.03" y="173.90" width="9.39" height="3.79" fill="#f6f9fc"/><rect x="221.03" y="170.11" width="9.39" height="3.79" fill="#fafcfd"/><rect x="221.03" y="166.31" width="9.39" height="3.79" fill="#fdfefe"/><rect x="230.43" y="318.11" width="9.39" height="3.79" fill="#8ab7d8"/><rect x="230.43" y="314.32" width="9.39" height="3.79" fill="#78add2"/><rect x="230.43" y="310.52" width="9.39" height="3.79" fill="#65a3cc"/><rect x="230.43" y="306.73" width="9.39" height="3.79" fill="#5299c7"/><rect x="230.43" y="302.93" width="9.39" height="3.79" fill="#4192c2"/><rect x="230.43" y="299.14" width="9.39" height="3.79" fill="#388ec0"/><rect x="230.43" y="295.34" width="9.39" height="3.79" fill="#2f8abe"/><rect x="230.43" y="291.55" width="9.39" height="3.79" fill="#2587bc"/><rect x="230.43" y="287.75" width="9.39" height="3.79" fill="#1b84ba"/><rect x="230.43" y="283.96" width="9.39" height="3.79" fill="#1482b9"/><rect x="230.43" y="280.16" width="9.39" height="3.79" fill="#1082b9"/><rect x="230.43" y="276.37" width="9.39" height="3.79" fill="#1883ba"/><rect x="230.43" y="272.57" width="9.39" height="3.79" fill="#1f85bb"/><rect x="230.43" y="268.78" width="9.39" height="3.79" fill="#2687bc"/><rect x="230.43" y="264.98" width="9.39" height="3.79" fill="#2c89be"/><rect x="230.43" y="261.19" width="9.39" height="3.79" fill="#328cbf"/><rect x="230.43" y="257.39" width="9.39" height="3.79" fill="#388ec0"/><rect x="230.43" y="253.60" width="9.39" height="3.79" fill="#3d90c1"/><rect x="230.43" y="249.80" width="9.39" height="3.79" fill="#4392c3"/><rect x="230.43" y="246.01" width="9.39" height="3.79" fill="#4b96c5"/><rect x="230.43" y="242.21" width="9.39" height="3.79" fill="#549ac7"/><rect x="230.43" y="238.42" width="9.39" height="3.79" fill="#5c9eca"/><rect x="230.43" y="234.62" width="9.39" height="3.79" fill="#64a3cc"/><rect x="230.43" y="230.83" width="9.39" height="3.79" fill="#6ca7cf"/><rect x="230.43" y="227.03" width="9.39" height="3.79" fill="#75acd1"/><rect x="230.43" y="223.24" width="9.39" height="3.79" fill="#7fb1d4"/><rect x="230.43" y="219.44" width="9.39" height="3.79" fill="#89b7d8"/><rect x="230.43" y="215.65" width="9.39" height="3.79" fill="#93bcdb"/><rect x="230.43" y="211.85" width="9.39" height="3.79" fill="#9cc2de"/><rect x="230.43" y="208.06" width="9.39" height="3.79" fill="#a6c8e1"/><rect x="230.43" y="204.26" width="9.39" height="3.79" fill="#b0cee4"/><rect x="230.43" y="200.47" width="9.39" height="3.79" fill="#b9d4e8"/><rect x="230.43" y="196.67" width="9.39" height="3.79" fill="#c3daeb"/><rect x="230.43" y="192.88" width="9.39" height="3.79" fill="#cde0ee"/><rect x="230.43" y="189.08" width="9.39" height="3.79" fill="#d6e5f1"/><rect x="230.43" y="185.29" width="9.39" height="3.79" fill="#deeaf4"/><rect x="230.43" y="181.49" width="9.39" height="3.79" fill="#e5eff6"/><rect x="230.43" y="177.70" width="9.39" height="3.79" fill="#ecf3f9"/><rect x="230.43" y="173.90" width="9.39" height="3.79" fill="#f2f7fb"/><rect x="230.43" y="170.11" width="9.39" height="3.79" fill="#f7fafc"/><rect x="230.43" y="166.31" width="9.39" height="3.79" fill="#fbfcfe"/><rect x="230.43" y="162.52" width="9.39" height="3.79" fill="#fefeff"/><rect x="239.81" y="318.11" width="9.39" height="3.79" fill="#8cb9d9"/><rect x="239.81" y="314.32" width="9.39" height="3.79" fill="#7aafd3"/><rect x="239.81" y="310.52" width="9.39" height="3.79" fill="#68a5cd"/><rect x="239.81" y="306.73" width="9.39" height="3.79" fill="#559bc8"/><rect x="239.81" y="302.93" width="9.39" height="3.79" fill="#4392c3"/><rect x="239.81" y="299.14" width="9.39" height="3.79" fill="#3a8ec0"/><rect x="239.81" y="295.34" width="9.39" height="3.79" fill="#308bbe"/><rect x="239.81" y="291.55" width="9.39" height="3.79" fill="#2687bc"/><rect x="239.81" y="287.75" width="9.39" height="3.79" fill="#1c84bb"/><rect x="239.81" y="283.96" width="9.39" height="3.79" fill="#1783ba"/><rect x="239.81" y="280.16" width="9.39" height="3.79" fill="#1082b9"/><rect x="239.81" y="276.37" width="9.39" height="3.79" fill="#1282b9"/><rect x="239.81" y="272.57" width="9.39" height="3.79" fill="#1984ba"/><rect x="239.81" y="268.78" width="9.39" height="3.79" fill="#1e85bb"/><rect x="239.81" y="264.98" width="9.39" height="3.79" fill="#2687bc"/><rect x="239.81" y="261.19" width="9.39" height="3.79" fill="#2d89be"/><rect x="239.81" y="257.39" width="9.39" height="3.79" fill="#338cbf"/><rect x="239.81" y="253.60" width="9.39" height="3.79" fill="#398ec0"/><rect x="239.81" y="249.80" width="9.39" height="3.79" fill="#3f91c2"/><rect x="239.81" y="246.01" width="9.39" height="3.79" fill="#4593c3"/><rect x="239.81" y="242.21" width="9.39" height="3.79" fill="#4e98c6"/><rect x="239.81" y="238.42" width="9.39" height="3.79" fill="#579cc8"/><rect x="239.81" y="234.62" width="9.39" height="3.79" fill="#5fa0cb"/><rect x="239.81" y="230.83" width="9.39" height="3.79" fill="#67a4cd"/><rect x="239.81" y="227.03" width="9.39" height="3.79" fill="#70a9d0"/><rect x="239.81" y="223.24" width="9.39" height="3.79" fill="#7aaed3"/><rect x="239.81" y="219.44" width="9.39" height="3.79" fill="#84b4d6"/><rect x="239.81" y="215.65" width="9.39" height="3.79" fill="#8ebad9"/><rect x="239.81" y="211.85" width="9.39" height="3.79" fill="#98c0dc"/><rect x="239.81" y="208.06" width="9.39" height="3.79" fill="#a2c6e0"/><rect x="239.81" y="204.26" width="9.39" height="3.79" fill="#accce3"/><rect x="239.81" y="200.47" width="9.39" height="3.79" fill="#b6d2e6"/><rect x="239.81" y="196.67" width="9.39" height="3.79" fill="#c0d8ea"/><rect x="239.81" y="192.88" width="9.39" height="3.79" fill="#c9dded"/><rect x="239.81" y="189.08" width="9.39" height="3.79" fill="#d2e3f0"/><rect x="239.81" y="185.29" width="9.39" height="3.79" fill="#dae8f2"/><rect x="239.81" y="181.49" width="9.39" height="3.79" fill="#e1ecf5"/><rect x="239.81" y="177.70" width="9.39" height="3.79" fill="#e8f1f7"/><rect x="239.81" y="173.90" width="9.39" height="3.79" fill="#eff5f9"/><rect x="239.81" y="170.11" width="9.39" height="3.79" fill="#f4f8fb"/><rect x="239.81" y="166.31" width="9.39" height="3.79" fill="#f9fbfd"/><rect x="239.81" y="162.52" width="9.39" height="3.79" fill="#fdfdfe"/><rect x="249.21" y="318.11" width="9.39" height="3.79" fill="#8fbbda"/><rect x="249.21" y="314.32" width="9.39" height="3.79" fill="#7db0d4"/><rect x="249.21" y="310.52" width="9.39" height="3.79" fill="#6ba6ce"/><rect x="249.21" y="306.73" width="9.39" height="3.79" fill="#599dc9"/><rect x="249.21" y="302.93" width="9.39" height="3.79" fill="#4593c3"/><rect x="249.21" y="299.14" width="9.39" height="3.79" fill="#3b8fc1"/><rect x="249.21" y="295.34" width="9.39" height="3.79" fill="#328cbf"/><rect x="249.21" y="291.55" width="9.39" height="3.79" fill="#2888bd"/><rect x="249.21" y="287.75" width="9.39" height="3.79" fill="#1d85bb"/><rect x="249.21" y="283.96" width="9.39" height="3.79" fill="#1883ba"/><rect x="249.21" y="280.16" width="9.39" height="3.79" fill="#1182b9"/><rect x="249.21" y="276.37" width="9.39" height="3.79" fill="#1182b9"/><rect x="249.21" y="272.57" width="9.39" height="3.79" fill="#1883ba"/><rect x="249.21" y="268.78" width="9.39" height="3.79" fill="#1e85bb"/><rect x="249.21" y="264.98" width="9.39" height="3.79" fill="#2587bc"/><rect x="249.21" y="261.19" width="9.39" height="3.79" fill="#2b89bd"/><rect x="249.21" y="257.39" width="9.39" height="3.79" fill="#328bbf"/><rect x="249.21" y="253.60" width="9.39" height="3.79" fill="#378dc0"/><rect x="249.21" y="249.80" width="9.39" height="3.79" fill="#3d90c1"/><rect x="249.21" y="246.01" width="9.39" height="3.79" fill="#4292c3"/><rect x="249.21" y="242.21" width="9.39" height="3.79" fill="#4b96c5"/><rect x="249.21" y="238.42" width="9.39" height="3.79" fill="#549ac7"/><rect x="249.21" y="234.62" width="9.39" height="3.79" fill="#5d9fca"/><rect x="249.21" y="230.83" width="9.39" height="3.79" fill="#66a3cd"/><rect x="249.21" y="227.03" width="9.39" height="3.79" fill="#6ea8cf"/><rect x="249.21" y="223.24" width="9.39" height="3.79" fill="#78aed2"/><rect x="249.21" y="219.44" width="9.39" height="3.79" fill="#83b3d6"/><rect x="249.21" y="215.65" width="9.39" height="3.79" fill="#8db9d9"/><rect x="249.21" y="211.85" width="9.39" height="3.79" fill="#97bfdc"/><rect x="249.21" y="208.06" width="9.39" height="3.79" fill="#a2c5e0"/><rect x="249.21" y="204.26" width="9.39" height="3.79" fill="#accbe3"/><rect x="249.21" y="200.47" width="9.39" height="3.79" fill="#b6d2e6"/><rect x="249.21" y="196.67" width="9.39" height="3.79" fill="#c0d7ea"/><rect x="249.21" y="192.88" width="9.39" height="3.79" fill="#c8dded"/><rect x="249.21" y="189.08" width="9.39" height="3.79" fill="#d1e2ef"/><rect x="249.21" y="185.29" width="9.39" height="3.79" fill="#d9e7f2"/><rect x="249.21" y="181.49" width="9.39" height="3.79" fill="#e0ecf5"/><rect x="249.21" y="177.70" width="9.39" height="3.79" fill="#e7f0f7"/><rect x="249.21" y="173.90" width="9.39" height="3.79" fill="#eef4f9"/><rect x="249.21" y="170.11" width="9.39" height="3.79" fill="#f3f8fb"/><rect x="249.21" y="166.31" width="9.39" height="3.79" fill="#f8fbfd"/><rect x="249.21" y="162.52" width="9.39" height="3.79" fill="#fcfdfe"/><rect x="258.60" y="318.11" width="9.39" height="3.79" fill="#92bcda"/><rect x="258.60" y="314.32" width="9.39" height="3.79" fill="#80b2d5"/><rect x="258.60" y="310.52" width="9.39" height="3.79" fill="#6ea8cf"/><rect x="258.60" y="306.73" width="9.39" height="3.79" fill="#5c9eca"/><rect x="258.60" y="302.93" width="9.39" height="3.79" fill="#4995c4"/><rect x="258.60" y="299.14" width="9.39" height="3.79" fill="#3d90c1"/><rect x="258.60" y="295.34" width="9.39" height="3.79" fill="#348cbf"/><rect x="258.60" y="291.55" width="9.39" height="3.79" fill="#2b89bd"/><rect x="258.60" y="287.75" width="9.39" height="3.79" fill="#2085bb"/><rect x="258.60" y="283.96" width="9.39" height="3.79" fill="#1984ba"/><rect x="258.60" y="280.16" width="9.39" height="3.79" fill="#1382b9"/><rect x="258.60" y="276.37" width="9.39" height="3.79" fill="#1082b9"/><rect x="258.60" y="272.57" width="9.39" height="3.79" fill="#1783ba"/><rect x="258.60" y="268.78" width="9.39" height="3.79" fill="#1d85bb"/><rect x="258.60" y="264.98" width="9.39" height="3.79" fill="#2487bc"/><rect x="258.60" y="261.19" width="9.39" height="3.79" fill="#2b89bd"/><rect x="258.60" y="257.39" width="9.39" height="3.79" fill="#318bbe"/><rect x="258.60" y="253.60" width="9.39" height="3.79" fill="#378dc0"/><rect x="258.60" y="249.80" width="9.39" height="3.79" fill="#3c90c1"/><rect x="258.60" y="246.01" width="9.39" height="3.79" fill="#4292c2"/><rect x="258.60" y="242.21" width="9.39" height="3.79" fill="#4a96c5"/><rect x="258.60" y="238.42" width="9.39" height="3.79" fill="#539ac7"/><rect x="258.60" y="234.62" width="9.39" height="3.79" fill="#5b9ec9"/><rect x="258.60" y="230.83" width="9.39" height="3.79" fill="#63a2cc"/><rect x="258.60" y="227.03" width="9.39" height="3.79" fill="#6ca7ce"/><rect x="258.60" y="223.24" width="9.39" height="3.79" fill="#75abd1"/><rect x="258.60" y="219.44" width="9.39" height="3.79" fill="#7fb1d4"/><rect x="258.60" y="215.65" width="9.39" height="3.79" fill="#89b7d8"/><rect x="258.60" y="211.85" width="9.39" height="3.79" fill="#93bddb"/><rect x="258.60" y="208.06" width="9.39" height="3.79" fill="#9dc2de"/><rect x="258.60" y="204.26" width="9.39" height="3.79" fill="#a7c8e1"/><rect x="258.60" y="200.47" width="9.39" height="3.79" fill="#b1cee5"/><rect x="258.60" y="196.67" width="9.39" height="3.79" fill="#bad4e8"/><rect x="258.60" y="192.88" width="9.39" height="3.79" fill="#c3daeb"/><rect x="258.60" y="189.08" width="9.39" height="3.79" fill="#ccdfee"/><rect x="258.60" y="185.29" width="9.39" height="3.79" fill="#d4e4f0"/><rect x="258.60" y="181.49" width="9.39" height="3.79" fill="#dce9f3"/><rect x="258.60" y="177.70" width="9.39" height="3.79" fill="#e3edf5"/><rect x="258.60" y="173.90" width="9.39" height="3.79" fill="#eaf1f8"/><rect x="258.60" y="170.11" width="9.39" height="3.79" fill="#f0f5fa"/><rect x="258.60" y="166.31" width="9.39" height="3.79" fill="#f5f9fc"/><rect x="258.60" y="162.52" width="9.39" height="3.79" fill="#fafcfd"/><rect x="258.60" y="158.72" width="9.39" height="3.79" fill="#fdfefe"/><rect x="267.99" y="318.11" width="9.39" height="3.79" fill="#94bddb"/><rect x="267.99" y="314.32" width="9.39" height="3.79" fill="#82b3d5"/><rect x="267.99" y="310.52" width="9.39" height="3.79" fill="#70a9d0"/><rect x="267.99" y="306.73" width="9.39" height="3.79" fill="#5ea0ca"/><rect x="267.99" y="302.93" width="9.39" height="3.79" fill="#4c96c5"/><rect x="267.99" y="299.14" width="9.39" height="3.79" fill="#3f90c2"/><rect x="267.99" y="295.34" width="9.39" height="3.79" fill="#368dc0"/><rect x="267.99" y="291.55" width="9.39" height="3.79" fill="#2d8abe"/><rect x="267.99" y="287.75" width="9.39" height="3.79" fill="#2386bc"/><rect x="267.99" y="283.96" width="9.39" height="3.79" fill="#1a84ba"/><rect x="267.99" y="280.16" width="9.39" height="3.79" fill="#1382b9"/><rect x="267.99" y="276.37" width="9.39" height="3.79" fill="#1082b9"/><rect x="267.99" y="272.57" width="9.39" height="3.79" fill="#1783ba"/><rect x="267.99" y="268.78" width="9.39" height="3.79" fill="#1e85bb"/><rect x="267.99" y="264.98" width="9.39" height="3.79" fill="#2587bc"/><rect x="267.99" y="261.19" width="9.39" height="3.79" fill="#2b89bd"/><rect x="267.99" y="257.39" width="9.39" height="3.79" fill="#318bbe"/><rect x="267.99" y="253.60" width="9.39" height="3.79" fill="#368dc0"/><rect x="267.99" y="249.80" width="9.39" height="3.79" fill="#3b8fc1"/><rect x="267.99" y="246.01" width="9.39" height="3.79" fill="#4191c2"/><rect x="267.99" y="242.21" width="9.39" height="3.79" fill="#4894c4"/><rect x="267.99" y="238.42" width="9.39" height="3.79" fill="#5098c6"/><rect x="267.99" y="234.62" width="9.39" height="3.79" fill="#589cc9"/><rect x="267.99" y="230.83" width="9.39" height="3.79" fill="#60a0cb"/><rect x="267.99" y="227.03" width="9.39" height="3.79" fill="#68a5cd"/><rect x="267.99" y="223.24" width="9.39" height="3.79" fill="#70a9d0"/><rect x="267.99" y="219.44" width="9.39" height="3.79" fill="#7aaed3"/><rect x="267.99" y="215.65" width="9.39" height="3.79" fill="#84b4d6"/><rect x="267.99" y="211.85" width="9.39" height="3.79" fill="#8ebad9"/><rect x="267.99" y="208.06" width="9.39" height="3.79" fill="#98c0dc"/><rect x="267.99" y="204.26" width="9.39" height="3.79" fill="#a2c5e0"/><rect x="267.99" y="200.47" width="9.39" height="3.79" fill="#accbe3"/><rect x="267.99" y="196.67" width="9.39" height="3.79" fill="#b6d1e6"/><rect x="267.99" y="192.88" width="9.39" height="3.79" fill="#bfd7e9"/><rect x="267.99" y="189.08" width="9.39" height="3.79" fill="#c7dcec"/><rect x="267.99" y="185.29" width="9.39" height="3.79" fill="#d0e1ef"/><rect x="267.99" y="181.49" width="9.39" height="3.79" fill="#d7e6f2"/><rect x="267.99" y="177.70" width="9.39" height="3.79" fill="#dfebf4"/><rect x="267.99" y="173.90" width="9.39" height="3.79" fill="#e6eff6"/><rect x="267.99" y="170.11" width="9.39" height="3.79" fill="#ecf3f9"/><rect x="267.99" y="166.31" width="9.39" height="3.79" fill="#f2f7fb"/><rect x="267.99" y="162.52" width="9.39" height="3.79" fill="#f7fafc"/><rect x="267.99" y="158.72" width="9.39" height="3.79" fill="#fcfdfe"/><rect x="277.38" y="318.11" width="9.39" height="3.79" fill="#93bddb"/><rect x="277.38" y="314.32" width="9.39" height="3.79" fill="#82b3d5"/><rect x="277.38" y="310.52" width="9.39" height="3.79" fill="#71a9d0"/><rect x="277.38" y="306.73" width="9.39" height="3.79" fill="#5fa0cb"/><rect x="277.38" y="302.93" width="9.39" height="3.79" fill="#4d97c6"/><rect x="277.38" y="299.14" width="9.39" height="3.79" fill="#3f91c2"/><rect x="277.38" y="295.34" width="9.39" height="3.79" fill="#378dc0"/><rect x="277.38" y="291.55" width="9.39" height="3.79" fill="#2f8abe"/><rect x="277.38" y="287.75" width="9.39" height="3.79" fill="#2587bc"/><rect x="277.38" y="283.96" width="9.39" height="3.79" fill="#1c84bb"/><rect x="277.38" y="280.16" width="9.39" height="3.79" fill="#1583ba"/><rect x="277.38" y="276.37" width="9.39" height="3.79" fill="#0d81b9"/><rect x="277.38" y="272.57" width="9.39" height="3.79" fill="#1583ba"/><rect x="277.38" y="268.78" width="9.39" height="3.79" fill="#1b84ba"/><rect x="277.38" y="264.98" width="9.39" height="3.79" fill="#2286bc"/><rect x="277.38" y="261.19" width="9.39" height="3.79" fill="#2988bd"/><rect x="277.38" y="257.39" width="9.39" height="3.79" fill="#2f8abe"/><rect x="277.38" y="253.60" width="9.39" height="3.79" fill="#358dbf"/><rect x="277.38" y="249.80" width="9.39" height="3.79" fill="#3b8fc1"/><rect x="277.38" y="246.01" width="9.39" height="3.79" fill="#4091c2"/><rect x="277.38" y="242.21" width="9.39" height="3.79" fill="#4794c4"/><rect x="277.38" y="238.42" width="9.39" height="3.79" fill="#4f98c6"/><rect x="277.38" y="234.62" width="9.39" height="3.79" fill="#579cc8"/><rect x="277.38" y="230.83" width="9.39" height="3.79" fill="#5fa0cb"/><rect x="277.38" y="227.03" width="9.39" height="3.79" fill="#67a4cd"/><rect x="277.38" y="223.24" width="9.39" height="3.79" fill="#6fa8cf"/><rect x="277.38" y="219.44" width="9.39" height="3.79" fill="#78add2"/><rect x="277.38" y="215.65" width="9.39" height="3.79" fill="#82b3d5"/><rect x="277.38" y="211.85" width="9.39" height="3.79" fill="#8cb9d9"/><rect x="277.38" y="208.06" width="9.39" height="3.79" fill="#96bedc"/><rect x="277.38" y="204.26" width="9.39" height="3.79" fill="#a0c4df"/><rect x="277.38" y="200.47" width="9.39" height="3.79" fill="#a9cae2"/><rect x="277.38" y="196.67" width="9.39" height="3.79" fill="#b3d0e5"/><rect x="277.38" y="192.88" width="9.39" height="3.79" fill="#bdd6e9"/><rect x="277.38" y="189.08" width="9.39" height="3.79" fill="#c5dbeb"/><rect x="277.38" y="185.29" width="9.39" height="3.79" fill="#cde0ee"/><rect x="277.38" y="181.49" width="9.39" height="3.79" fill="#d5e5f1"/><rect x="277.38" y="177.70" width="9.39" height="3.79" fill="#dde9f3"/><rect x="277.38" y="173.90" width="9.39" height="3.79" fill="#e4eef6"/><rect x="277.38" y="170.11" width="9.39" height="3.79" fill="#eaf2f8"/><rect x="277.38" y="166.31" width="9.39" height="3.79" fill="#f0f6fa"/><rect x="277.38" y="162.52" width="9.39" height="3.79" fill="#f6f9fc"/><rect x="277.38" y="158.72" width="9.39" height="3.79" fill="#fafcfd"/><rect x="286.76" y="318.11" width="9.39" height="3.79" fill="#92bcdb"/><rect x="286.76" y="314.32" width="9.39" height="3.79" fill="#81b2d5"/><rect x="286.76" y="310.52" width="9.39" height="3.79" fill="#70a9d0"/><rect x="286.76" y="306.73" width="9.39" height="3.79" fill="#5fa0cb"/><rect x="286.76" y="302.93" width="9.39" height="3.79" fill="#4e97c6"/><rect x="286.76" y="299.14" width="9.39" height="3.79" fill="#4091c2"/><rect x="286.76" y="295.34" width="9.39" height="3.79" fill="#388ec0"/><rect x="286.76" y="291.55" width="9.39" height="3.79" fill="#308bbe"/><rect x="286.76" y="287.75" width="9.39" height="3.79" fill="#2687bc"/><rect x="286.76" y="283.96" width="9.39" height="3.79" fill="#1d85bb"/><rect x="286.76" y="280.16" width="9.39" height="3.79" fill="#1783ba"/><rect x="286.76" y="276.37" width="9.39" height="3.79" fill="#1082b9"/><rect x="286.76" y="272.57" width="9.39" height="3.79" fill="#1382b9"/><rect x="286.76" y="268.78" width="9.39" height="3.79" fill="#1984ba"/><rect x="286.76" y="264.98" width="9.39" height="3.79" fill="#1f85bb"/><rect x="286.76" y="261.19" width="9.39" height="3.79" fill="#2687bc"/><rect x="286.76" y="257.39" width="9.39" height="3.79" fill="#2d8abe"/><rect x="286.76" y="253.60" width="9.39" height="3.79" fill="#338cbf"/><rect x="286.76" y="249.80" width="9.39" height="3.79" fill="#398ec0"/><rect x="286.76" y="246.01" width="9.39" height="3.79" fill="#3e90c2"/><rect x="286.76" y="242.21" width="9.39" height="3.79" fill="#4493c3"/><rect x="286.76" y="238.42" width="9.39" height="3.79" fill="#4c97c5"/><rect x="286.76" y="234.62" width="9.39" height="3.79" fill="#549ac7"/><rect x="286.76" y="230.83" width="9.39" height="3.79" fill="#5c9eca"/><rect x="286.76" y="227.03" width="9.39" height="3.79" fill="#63a2cc"/><rect x="286.76" y="223.24" width="9.39" height="3.79" fill="#6ba6ce"/><rect x="286.76" y="219.44" width="9.39" height="3.79" fill="#73aad0"/><rect x="286.76" y="215.65" width="9.39" height="3.79" fill="#7db0d4"/><rect x="286.76" y="211.85" width="9.39" height="3.79" fill="#87b6d7"/><rect x="286.76" y="208.06" width="9.39" height="3.79" fill="#91bcda"/><rect x="286.76" y="204.26" width="9.39" height="3.79" fill="#9cc2de"/><rect x="286.76" y="200.47" width="9.39" height="3.79" fill="#a6c8e1"/><rect x="286.76" y="196.67" width="9.39" height="3.79" fill="#b0cee4"/><rect x="286.76" y="192.88" width="9.39" height="3.79" fill="#bad4e8"/><rect x="286.76" y="189.08" width="9.39" height="3.79" fill="#c3d9eb"/><rect x="286.76" y="185.29" width="9.39" height="3.79" fill="#cbdeed"/><rect x="286.76" y="181.49" width="9.39" height="3.79" fill="#d3e3f0"/><rect x="286.76" y="177.70" width="9.39" height="3.79" fill="#dae8f3"/><rect x="286.76" y="173.90" width="9.39" height="3.79" fill="#e1ecf5"/><rect x="286.76" y="170.11" width="9.39" height="3.79" fill="#e8f0f7"/><rect x="286.76" y="166.31" width="9.39" height="3.79" fill="#eef4f9"/><rect x="286.76" y="162.52" width="9.39" height="3.79" fill="#f4f8fb"/><rect x="286.76" y="158.72" width="9.39" height="3.79" fill="#f9fbfd"/><rect x="286.76" y="154.93" width="9.39" height="3.79" fill="#fdfefe"/><rect x="296.15" y="318.11" width="9.39" height="3.79" fill="#91bbda"/><rect x="296.15" y="314.32" width="9.39" height="3.79" fill="#81b2d5"/><rect x="296.15" y="310.52" width="9.39" height="3.79" fill="#70a9d0"/><rect x="296.15" y="306.73" width="9.39" height="3.79" fill="#60a0cb"/><rect x="296.15" y="302.93" width="9.39" height="3.79" fill="#4f98c6"/><rect x="296.15" y="299.14" width="9.39" height="3.79" fill="#4191c2"/><rect x="296.15" y="295.34" width="9.39" height="3.79" fill="#398ec0"/><rect x="296.15" y="291.55" width="9.39" height="3.79" fill="#318bbe"/><rect x="296.15" y="287.75" width="9.39" height="3.79" fill="#2888bd"/><rect x="296.15" y="283.96" width="9.39" height="3.79" fill="#1e85bb"/><rect x="296.15" y="280.16" width="9.39" height="3.79" fill="#1883ba"/><rect x="296.15" y="276.37" width="9.39" height="3.79" fill="#1182b9"/><rect x="296.15" y="272.57" width="9.39" height="3.79" fill="#1282b9"/><rect x="296.15" y="268.78" width="9.39" height="3.79" fill="#1984ba"/><rect x="296.15" y="264.98" width="9.39" height="3.79" fill="#1f85bb"/><rect x="296.15" y="261.19" width="9.39" height="3.79" fill="#2787bc"/><rect x="296.15" y="257.39" width="9.39" height="3.79" fill="#2d8abe"/><rect x="296.15" y="253.60" width="9.39" height="3.79" fill="#338cbf"/><rect x="296.15" y="249.80" width="9.39" height="3.79" fill="#398ec0"/><rect x="296.15" y="246.01" width="9.39" height="3.79" fill="#3e90c2"/><rect x="296.15" y="242.21" width="9.39" height="3.79" fill="#4393c3"/><rect x="296.15" y="238.42" width="9.39" height="3.79" fill="#4c96c5"/><rect x="296.15" y="234.62" width="9.39" height="3.79" fill="#549ac7"/><rect x="296.15" y="230.83" width="9.39" height="3.79" fill="#5b9eca"/><rect x="296.15" y="227.03" width="9.39" height="3.79" fill="#63a2cc"/><rect x="296.15" y="223.24" width="9.39" height="3.79" fill="#6ba6ce"/><rect x="296.15" y="219.44" width="9.39" height="3.79" fill="#73aad1"/><rect x="296.15" y="215.65" width="9.39" height="3.79" fill="#7db0d4"/><rect x="296.15" y="211.85" width="9.39" height="3.79" fill="#87b5d7"/><rect x="296.15" y="208.06" width="9.39" height="3.79" fill="#90bbda"/><rect x="296.15" y="204.26" width="9.39" height="3.79" fill="#9ac1dd"/><rect x="296.15" y="200.47" width="9.39" height="3.79" fill="#a4c7e0"/><rect x="296.15" y="196.67" width="9.39" height="3.79" fill="#aecce4"/><rect x="296.15" y="192.88" width="9.39" height="3.79" fill="#b7d2e7"/><rect x="296.15" y="189.08" width="9.39" height="3.79" fill="#c0d8ea"/><rect x="296.15" y="185.29" width="9.39" height="3.79" fill="#c8ddec"/><rect x="296.15" y="181.49" width="9.39" height="3.79" fill="#d0e1ef"/><rect x="296.15" y="177.70" width="9.39" height="3.79" fill="#d7e6f2"/><rect x="296.15" y="173.90" width="9.39" height="3.79" fill="#dfebf4"/><rect x="296.15" y="170.11" width="9.39" height="3.79" fill="#e5eff6"/><rect x="296.15" y="166.31" width="9.39" height="3.79" fill="#ecf3f9"/><rect x="296.15" y="162.52" width="9.39" height="3.79" fill="#f2f7fb"/><rect x="296.15" y="158.72" width="9.39" height="3.79" fill="#f7fafc"/><rect x="296.15" y="154.93" width="9.39" height="3.79" fill="#fcfdfe"/><rect x="305.55" y="318.11" width="9.39" height="3.79" fill="#91bbda"/><rect x="305.55" y="314.32" width="9.39" height="3.79" fill="#81b2d5"/><rect x="305.55" y="310.52" width="9.39" height="3.79" fill="#71a9d0"/><rect x="305.55" y="306.73" width="9.39" height="3.79" fill="#61a1cb"/><rect x="305.55" y="302.93" width="9.39" height="3.79" fill="#5199c6"/><rect x="305.55" y="299.14" width="9.39" height="3.79" fill="#4292c2"/><rect x="305.55" y="295.34" width="9.39" height="3.79" fill="#3a8fc1"/><rect x="305.55" y="291.55" width="9.39" height="3.79" fill="#338cbf"/><rect x="305.55" y="287.75" width="9.39" height="3.79" fill="#2b89bd"/><rect x="305.55" y="283.96" width="9.39" height="3.79" fill="#2186bb"/><rect x="305.55" y="280.16" width="9.39" height="3.79" fill="#1a84ba"/><rect x="305.55" y="276.37" width="9.39" height="3.79" fill="#1282b9"/><rect x="305.55" y="272.57" width="9.39" height="3.79" fill="#1182b9"/><rect x="305.55" y="268.78" width="9.39" height="3.79" fill="#1984ba"/><rect x="305.55" y="264.98" width="9.39" height="3.79" fill="#2085bb"/><rect x="305.55" y="261.19" width="9.39" height="3.79" fill="#2787bc"/><rect x="305.55" y="257.39" width="9.39" height="3.79" fill="#2d8abe"/><rect x="305.55" y="253.60" width="9.39" height="3.79" fill="#338cbf"/><rect x="305.55" y="249.80" width="9.39" height="3.79" fill="#388ec0"/><rect x="305.55" y="246.01" width="9.39" height="3.79" fill="#3e90c1"/><rect x="305.55" y="242.21" width="9.39" height="3.79" fill="#4392c3"/><rect x="305.55" y="238.42" width="9.39" height="3.79" fill="#4b96c5"/><rect x="305.55" y="234.62" width="9.39" height="3.79" fill="#539ac7"/><rect x="305.55" y="230.83" width="9.39" height="3.79" fill="#5b9ec9"/><rect x="305.55" y="227.03" width="9.39" height="3.79" fill="#62a2cc"/><rect x="305.55" y="223.24" width="9.39" height="3.79" fill="#6aa6ce"/><rect x="305.55" y="219.44" width="9.39" height="3.79" fill="#72aad0"/><rect x="305.55" y="215.65" width="9.39" height="3.79" fill="#7bafd3"/><rect x="305.55" y="211.85" width="9.39" height="3.79" fill="#85b5d6"/><rect x="305.55" y="208.06" width="9.39" height="3.79" fill="#8ebad9"/><rect x="305.55" y="204.26" width="9.39" height="3.79" fill="#98bfdc"/><rect x="305.55" y="200.47" width="9.39" height="3.79" fill="#a1c5df"/><rect x="305.55" y="196.67" width="9.39" height="3.79" fill="#aacbe3"/><rect x="305.55" y="192.88" width="9.39" height="3.79" fill="#b4d0e6"/><rect x="305.55" y="189.08" width="9.39" height="3.79" fill="#bdd6e9"/><rect x="305.55" y="185.29" width="9.39" height="3.79" fill="#c5dbeb"/><rect x="305.55" y="181.49" width="9.39" height="3.79" fill="#cddfee"/><rect x="305.55" y="177.70" width="9.39" height="3.79" fill="#d4e4f1"/><rect x="305.55" y="173.90" width="9.39" height="3.79" fill="#dbe9f3"/><rect x="305.55" y="170.11" width="9.39" height="3.79" fill="#e2edf5"/><rect x="305.55" y="166.31" width="9.39" height="3.79" fill="#e9f1f8"/><rect x="305.55" y="162.52" width="9.39" height="3.79" fill="#eff5fa"/><rect x="305.55" y="158.72" width="9.39" height="3.79" fill="#f5f9fc"/><rect x="305.55" y="154.93" width="9.39" height="3.79" fill="#fafcfd"/><rect x="305.55" y="151.13" width="9.39" height="3.79" fill="#fefeff"/><rect x="314.94" y="318.11" width="9.39" height="3.79" fill="#91bbda"/><rect x="314.94" y="314.32" width="9.39" height="3.79" fill="#81b2d5"/><rect x="314.94" y="310.52" width="9.39" height="3.79" fill="#72aad0"/><rect x="314.94" y="306.73" width="9.39" height="3.79" fill="#62a1cb"/><rect x="314.94" y="302.93" width="9.39" height="3.79" fill="#5299c7"/><rect x="314.94" y="299.14" width="9.39" height="3.79" fill="#4292c3"/><rect x="314.94" y="295.34" width="9.39" height="3.79" fill="#3c8fc1"/><rect x="314.94" y="291.55" width="9.39" height="3.79" fill="#348cbf"/><rect x="314.94" y="287.75" width="9.39" height="3.79" fill="#2d89be"/><rect x="314.94" y="283.96" width="9.39" height="3.79" fill="#2487bc"/><rect x="314.94" y="280.16" width="9.39" height="3.79" fill="#1c84bb"/><rect x="314.94" y="276.37" width="9.39" height="3.79" fill="#1483ba"/><rect x="314.94" y="272.57" width="9.39" height="3.79" fill="#0f82b9"/><rect x="314.94" y="268.78" width="9.39" height="3.79" fill="#1883ba"/><rect x="314.94" y="264.98" width="9.39" height="3.79" fill="#1f85bb"/><rect x="314.94" y="261.19" width="9.39" height="3.79" fill="#2687bc"/><rect x="314.94" y="257.39" width="9.39" height="3.79" fill="#2c89bd"/><rect x="314.94" y="253.60" width="9.39" height="3.79" fill="#328bbf"/><rect x="314.94" y="249.80" width="9.39" height="3.79" fill="#388ec0"/><rect x="314.94" y="246.01" width="9.39" height="3.79" fill="#3d90c1"/><rect x="314.94" y="242.21" width="9.39" height="3.79" fill="#4292c3"/><rect x="314.94" y="238.42" width="9.39" height="3.79" fill="#4a96c5"/><rect x="314.94" y="234.62" width="9.39" height="3.79" fill="#5299c7"/><rect x="314.94" y="230.83" width="9.39" height="3.79" fill="#599dc9"/><rect x="314.94" y="227.03" width="9.39" height="3.79" fill="#61a1cb"/><rect x="314.94" y="223.24" width="9.39" height="3.79" fill="#68a5cd"/><rect x="314.94" y="219.44" width="9.39" height="3.79" fill="#70a9d0"/><rect x="314.94" y="215.65" width="9.39" height="3.79" fill="#79aed3"/><rect x="314.94" y="211.85" width="9.39" height="3.79" fill="#83b3d6"/><rect x="314.94" y="208.06" width="9.39" height="3.79" fill="#8cb9d9"/><rect x="314.94" y="204.26" width="9.39" height="3.79" fill="#95bedc"/><rect x="314.94" y="200.47" width="9.39" height="3.79" fill="#9fc4df"/><rect x="314.94" y="196.67" width="9.39" height="3.79" fill="#a8c9e2"/><rect x="314.94" y="192.88" width="9.39" height="3.79" fill="#b2cfe5"/><rect x="314.94" y="189.08" width="9.39" height="3.79" fill="#bbd5e8"/><rect x="314.94" y="185.29" width="9.39" height="3.79" fill="#c3d9eb"/><rect x="314.94" y="181.49" width="9.39" height="3.79" fill="#cbdeed"/><rect x="314.94" y="177.70" width="9.39" height="3.79" fill="#d2e3f0"/><rect x="314.94" y="173.90" width="9.39" height="3.79" fill="#d9e7f2"/><rect x="314.94" y="170.11" width="9.39" height="3.79" fill="#e0ecf5"/><rect x="314.94" y="166.31" width="9.39" height="3.79" fill="#e7f0f7"/><rect x="314.94" y="162.52" width="9.39" height="3.79" fill="#edf4f9"/><rect x="314.94" y="158.72" width="9.39" height="3.79" fill="#f3f8fb"/><rect x="314.94" y="154.93" width="9.39" height="3.79" fill="#f8fbfd"/><rect x="314.94" y="151.13" width="9.39" height="3.79" fill="#fdfefe"/><rect x="324.33" y="318.11" width="9.39" height="3.79" fill="#91bbda"/><rect x="324.33" y="314.32" width="9.39" height="3.79" fill="#82b3d5"/><rect x="324.33" y="310.52" width="9.39" height="3.79" fill="#73aad1"/><rect x="324.33" y="306.73" width="9.39" height="3.79" fill="#63a2cc"/><rect x="324.33" y="302.93" width="9.39" height="3.79" fill="#549ac7"/><rect x="324.33" y="299.14" width="9.39" height="3.79" fill="#4493c3"/><rect x="324.33" y="295.34" width="9.39" height="3.79" fill="#3d90c1"/><rect x="324.33" y="291.55" width="9.39" height="3.79" fill="#368dc0"/><rect x="324.33" y="287.75" width="9.39" height="3.79" fill="#2e8abe"/><rect x="324.33" y="283.96" width="9.39" height="3.79" fill="#2687bc"/><rect x="324.33" y="280.16" width="9.39" height="3.79" fill="#1e85bb"/><rect x="324.33" y="276.37" width="9.39" height="3.79" fill="#1683ba"/><rect x="324.33" y="272.57" width="9.39" height="3.79" fill="#0e81b9"/><rect x="324.33" y="268.78" width="9.39" height="3.79" fill="#1783ba"/><rect x="324.33" y="264.98" width="9.39" height="3.79" fill="#1e85bb"/><rect x="324.33" y="261.19" width="9.39" height="3.79" fill="#2587bc"/><rect x="324.33" y="257.39" width="9.39" height="3.79" fill="#2c89bd"/><rect x="324.33" y="253.60" width="9.39" height="3.79" fill="#328bbf"/><rect x="324.33" y="249.80" width="9.39" height="3.79" fill="#378dc0"/><rect x="324.33" y="246.01" width="9.39" height="3.79" fill="#3d90c1"/><rect x="324.33" y="242.21" width="9.39" height="3.79" fill="#4292c3"/><rect x="324.33" y="238.42" width="9.39" height="3.79" fill="#4995c4"/><rect x="324.33" y="234.62" width="9.39" height="3.79" fill="#5199c6"/><rect x="324.33" y="230.83" width="9.39" height="3.79" fill="#589cc9"/><rect x="324.33" y="227.03" width="9.39" height="3.79" fill="#60a0cb"/><rect x="324.33" y="223.24" width="9.39" height="3.79" fill="#67a4cd"/><rect x="324.33" y="219.44" width="9.39" height="3.79" fill="#6ea8cf"/><rect x="324.33" y="215.65" width="9.39" height="3.79" fill="#77add2"/><rect x="324.33" y="211.85" width="9.39" height="3.79" fill="#80b2d5"/><rect x="324.33" y="208.06" width="9.39" height="3.79" fill="#8ab7d8"/><rect x="324.33" y="204.26" width="9.39" height="3.79" fill="#94bddb"/><rect x="324.33" y="200.47" width="9.39" height="3.79" fill="#9dc3de"/><rect x="324.33" y="196.67" width="9.39" height="3.79" fill="#a7c8e1"/><rect x="324.33" y="192.88" width="9.39" height="3.79" fill="#b0cee4"/><rect x="324.33" y="189.08" width="9.39" height="3.79" fill="#b9d4e8"/><rect x="324.33" y="185.29" width="9.39" height="3.79" fill="#c1d8ea"/><rect x="324.33" y="181.49" width="9.39" height="3.79" fill="#c9dded"/><rect x="324.33" y="177.70" width="9.39" height="3.79" fill="#d0e2ef"/><rect x="324.33" y="173.90" width="9.39" height="3.79" fill="#d8e6f2"/><rect x="324.33" y="170.11" width="9.39" height="3.79" fill="#dfebf4"/><rect x="324.33" y="166.31" width="9.39" height="3.79" fill="#e5eff6"/><rect x="324.33" y="162.52" width="9.39" height="3.79" fill="#ecf3f8"/><rect x="324.33" y="158.72" width="9.39" height="3.79" fill="#f2f7fb"/><rect x="324.33" y="154.93" width="9.39" height="3.79" fill="#f7fafc"/><rect x="324.33" y="151.13" width="9.39" height="3.79" fill="#fcfdfe"/><rect x="333.72" y="318.11" width="9.39" height="3.79" fill="#92bcda"/><rect x="333.72" y="314.32" width="9.39" height="3.79" fill="#83b3d6"/><rect x="333.72" y="310.52" width="9.39" height="3.79" fill="#74abd1"/><rect x="333.72" y="306.73" width="9.39" height="3.79" fill="#65a3cc"/><rect x="333.72" y="302.93" width="9.39" height="3.79" fill="#569bc8"/><rect x="333.72" y="299.14" width="9.39" height="3.79" fill="#4694c4"/><rect x="333.72" y="295.34" width="9.39" height="3.79" fill="#3e90c1"/><rect x="333.72" y="291.55" width="9.39" height="3.79" fill="#378dc0"/><rect x="333.72" y="287.75" width="9.39" height="3.79" fill="#308bbe"/><rect x="333.72" y="283.96" width="9.39" height="3.79" fill="#2888bd"/><rect x="333.72" y="280.16" width="9.39" height="3.79" fill="#2085bb"/><rect x="333.72" y="276.37" width="9.39" height="3.79" fill="#1883ba"/><rect x="333.72" y="272.57" width="9.39" height="3.79" fill="#0e81b9"/><rect x="333.72" y="268.78" width="9.39" height="3.79" fill="#1783ba"/><rect x="333.72" y="264.98" width="9.39" height="3.79" fill="#1f85bb"/><rect x="333.72" y="261.19" width="9.39" height="3.79" fill="#2687bc"/><rect x="333.72" y="257.39" width="9.39" height="3.79" fill="#2c89bd"/><rect x="333.72" y="253.60" width="9.39" height="3.79" fill="#318bbf"/><rect x="333.72" y="249.80" width="9.39" height="3.79" fill="#378dc0"/><rect x="333.72" y="246.01" width="9.39" height="3.79" fill="#3c8fc1"/><rect x="333.72" y="242.21" width="9.39" height="3.79" fill="#4192c2"/><rect x="333.72" y="238.42" width="9.39" height="3.79" fill="#4895c4"/><rect x="333.72" y="234.62" width="9.39" height="3.79" fill="#5098c6"/><rect x="333.72" y="230.83" width="9.39" height="3.79" fill="#579cc8"/><rect x="333.72" y="227.03" width="9.39" height="3.79" fill="#5ea0ca"/><rect x="333.72" y="223.24" width="9.39" height="3.79" fill="#66a3cd"/><rect x="333.72" y="219.44" width="9.39" height="3.79" fill="#6da7cf"/><rect x="333.72" y="215.65" width="9.39" height="3.79" fill="#75acd1"/><rect x="333.72" y="211.85" width="9.39" height="3.79" fill="#7fb1d4"/><rect x="333.72" y="208.06" width="9.39" height="3.79" fill="#89b7d7"/><rect x="333.72" y="204.26" width="9.39" height="3.79" fill="#92bcdb"/><rect x="333.72" y="200.47" width="9.39" height="3.79" fill="#9cc2de"/><rect x="333.72" y="196.67" width="9.39" height="3.79" fill="#a5c7e1"/><rect x="333.72" y="192.88" width="9.39" height="3.79" fill="#afcde4"/><rect x="333.72" y="189.08" width="9.39" height="3.79" fill="#b8d3e7"/><rect x="333.72" y="185.29" width="9.39" height="3.79" fill="#c0d8ea"/><rect x="333.72" y="181.49" width="9.39" height="3.79" fill="#c8dcec"/><rect x="333.72" y="177.70" width="9.39" height="3.79" fill="#cfe1ef"/><rect x="333.72" y="173.90" width="9.39" height="3.79" fill="#d6e5f1"/><rect x="333.72" y="170.11" width="9.39" height="3.79" fill="#ddeaf4"/><rect x="333.72" y="166.31" width="9.39" height="3.79" fill="#e4eef6"/><rect x="333.72" y="162.52" width="9.39" height="3.79" fill="#eaf2f8"/><rect x="333.72" y="158.72" width="9.39" height="3.79" fill="#f0f6fa"/><rect x="333.72" y="154.93" width="9.39" height="3.79" fill="#f6f9fc"/><rect x="333.72" y="151.13" width="9.39" height="3.79" fill="#fbfdfe"/><rect x="343.11" y="318.11" width="9.39" height="3.79" fill="#93bddb"/><rect x="343.11" y="314.32" width="9.39" height="3.79" fill="#84b4d6"/><rect x="343.11" y="310.52" width="9.39" height="3.79" fill="#76acd1"/><rect x="343.11" y="306.73" width="9.39" height="3.79" fill="#67a4cd"/><rect x="343.11" y="302.93" width="9.39" height="3.79" fill="#589cc9"/><rect x="343.11" y="299.14" width="9.39" height="3.79" fill="#4995c4"/><rect x="343.11" y="295.34" width="9.39" height="3.79" fill="#3f91c2"/><rect x="343.11" y="291.55" width="9.39" height="3.79" fill="#3a8ec0"/><rect x="343.11" y="287.75" width="9.39" height="3.79" fill="#348cbf"/><rect x="343.11" y="283.96" width="9.39" height="3.79" fill="#2e8abe"/><rect x="343.11" y="280.16" width="9.39" height="3.79" fill="#2788bc"/><rect x="343.11" y="276.37" width="9.39" height="3.79" fill="#1f85bb"/><rect x="343.11" y="272.57" width="9.39" height="3.79" fill="#1282b9"/><rect x="343.11" y="268.78" width="9.39" height="3.79" fill="#1a84ba"/><rect x="343.11" y="264.98" width="9.39" height="3.79" fill="#2286bc"/><rect x="343.11" y="261.19" width="9.39" height="3.79" fill="#2888bd"/><rect x="343.11" y="257.39" width="9.39" height="3.79" fill="#2e8abe"/><rect x="343.11" y="253.60" width="9.39" height="3.79" fill="#338cbf"/><rect x="343.11" y="249.80" width="9.39" height="3.79" fill="#378ec0"/><rect x="343.11" y="246.01" width="9.39" height="3.79" fill="#3c8fc1"/><rect x="343.11" y="242.21" width="9.39" height="3.79" fill="#4191c2"/><rect x="343.11" y="238.42" width="9.39" height="3.79" fill="#4794c4"/><rect x="343.11" y="234.62" width="9.39" height="3.79" fill="#4e98c6"/><rect x="343.11" y="230.83" width="9.39" height="3.79" fill="#569bc8"/><rect x="343.11" y="227.03" width="9.39" height="3.79" fill="#5d9fca"/><rect x="343.11" y="223.24" width="9.39" height="3.79" fill="#65a3cc"/><rect x="343.11" y="219.44" width="9.39" height="3.79" fill="#6ca7ce"/><rect x="343.11" y="215.65" width="9.39" height="3.79" fill="#74abd1"/><rect x="343.11" y="211.85" width="9.39" height="3.79" fill="#7eb1d4"/><rect x="343.11" y="208.06" width="9.39" height="3.79" fill="#87b6d7"/><rect x="343.11" y="204.26" width="9.39" height="3.79" fill="#91bcda"/><rect x="343.11" y="200.47" width="9.39" height="3.79" fill="#9bc1dd"/><rect x="343.11" y="196.67" width="9.39" height="3.79" fill="#a4c7e1"/><rect x="343.11" y="192.88" width="9.39" height="3.79" fill="#aecde4"/><rect x="343.11" y="189.08" width="9.39" height="3.79" fill="#b7d2e7"/><rect x="343.11" y="185.29" width="9.39" height="3.79" fill="#bfd7ea"/><rect x="343.11" y="181.49" width="9.39" height="3.79" fill="#c7dcec"/><rect x="343.11" y="177.70" width="9.39" height="3.79" fill="#cee0ef"/><rect x="343.11" y="173.90" width="9.39" height="3.79" fill="#d5e5f1"/><rect x="343.11" y="170.11" width="9.39" height="3.79" fill="#dce9f3"/><rect x="343.11" y="166.31" width="9.39" height="3.79" fill="#e3edf6"/><rect x="343.11" y="162.52" width="9.39" height="3.79" fill="#e9f1f8"/><rect x="343.11" y="158.72" width="9.39" height="3.79" fill="#f0f5fa"/><rect x="343.11" y="154.93" width="9.39" height="3.79" fill="#f5f9fc"/><rect x="343.11" y="151.13" width="9.39" height="3.79" fill="#fbfcfe"/></g>
<path d="M98.97 264.98V268.78M108.35 249.80V253.60M117.75 238.42V242.21M127.13 230.83V234.62M136.53 219.44V227.03M145.91 215.65V219.44M155.31 208.06V211.85M164.69 200.47V208.06M174.09 196.67V200.47M183.47 192.88V196.67M192.87 189.08V192.88M202.25 185.29V189.08M211.65 181.49V185.29M221.03 177.70V181.49M230.43 173.90V181.49M239.81 173.90V177.70M249.21 173.90V177.70M258.60 170.11V173.90M267.99 166.31V173.90M277.38 166.31V170.11M286.76 166.31V170.11M296.15 162.52V170.11M305.55 162.52V166.31M314.94 162.52V166.31M324.33 158.72V166.31M333.72 158.72V162.52M343.11 158.72V162.52" stroke="#FFFFFF" stroke-width="0.8" stroke-opacity="0.05" fill="none"/>
<path d="M80.19 306.73V310.52M108.35 253.60V257.39M117.75 242.21V246.01M127.13 234.62V238.42M145.91 219.44V223.24M155.31 211.85V215.65M164.69 208.06V211.85M174.09 200.47V204.26M183.47 196.67V200.47M192.87 192.88V196.67M202.25 189.08V192.88M211.65 185.29V189.08M221.03 181.49V185.29M230.43 181.49V185.29M239.81 177.70V181.49M249.21 177.70V181.49M258.60 173.90V177.70M267.99 173.90V177.70M277.38 170.11V173.90M286.76 170.11V173.90M296.15 170.11V173.90M305.55 166.31V170.11M314.94 166.31V170.11M324.33 166.31V170.11M333.72 162.52V170.11M343.11 162.52V166.31" stroke="#FFFFFF" stroke-width="0.8" stroke-opacity="0.1" fill="none"/>
<path d="M89.57 287.75V291.55M98.97 268.78V272.57M117.75 246.01V249.80M136.53 227.03V230.83M155.31 215.65V219.44M174.09 204.26V208.06M183.47 200.47V204.26M192.87 196.67V200.47M202.25 192.88V196.67M211.65 189.08V192.88M221.03 185.29V189.08M230.43 185.29V189.08M239.81 181.49V185.29M249.21 181.49V185.29M258.60 177.70V181.49M267.99 177.70V181.49M277.38 173.90V181.49M286.76 173.90V177.70M296.15 173.90V177.70M305.55 170.11V173.90M314.94 170.11V173.90M324.33 170.11V173.90M333.72 170.11V173.90M343.11 166.31V170.11" stroke="#FFFFFF" stroke-width="0.8" stroke-opacity="0.15" fill="none"/>
<path d="M108.35 257.39V261.19M127.13 238.42V242.21M136.53 230.83V234.62M145.91 223.24V227.03M164.69 211.85V215.65M174.09 208.06V211.85M183.47 204.26V208.06M192.87 200.47V204.26M202.25 196.67V200.47M211.65 192.88V196.67M221.03 189.08V192.88M230.43 189.08V192.88M239.81 185.29V189.08M249.21 185.29V189.08M258.60 181.49V185.29M267.99 181.49V185.29M277.38 181.49V185.29M286.76 177.70V181.49M296.15 177.70V181.49M305.55 173.90V177.70M314.94 173.90V177.70M324.33 173.90V177.70M333.72 173.90V177.70M343.11 170.11V177.70" stroke="#FFFFFF" stroke-width="0.8" stroke-opacity="0.2" fill="none"/>
<path d="M98.97 272.57V276.37M117.75 249.80V253.60M145.91 227.03V230.83M155.31 219.44V223.24M164.69 215.65V219.44M202.25 200.47V204.26M211.65 196.67V200.47M221.03 192.88V196.67M230.43 192.88V196.67M239.81 189.08V192.88M249.21 189.08V192.88M258.60 185.29V189.08M267.99 185.29V189.08M277.38 185.29V189.08M286.76 181.49V185.29M296.15 181.49V185.29M305.55 177.70V181.49M314.94 177.70V181.49M324.33 177.70V181.49M333.72 177.70V181.49M343.11 177.70V181.49" stroke="#FFFFFF" stroke-width="0.8" stroke-opacity="0.25" fill="none"/>
<path d="M89.57 291.55V295.34M108.35 261.19V264.98M127.13 242.21V246.01M136.53 234.62V238.42M155.31 223.24V227.03M174.09 211.85V215.65M183.47 208.06V211.85M192.87 204.26V208.06M211.65 200.47V204.26M221.03 196.67V200.47M239.81 192.88V196.67M249.21 192.88V196.67M258.60 189.08V192.88M267.99 189.08V192.88M286.76 185.29V189.08M296.15 185.29V189.08M305.55 181.49V185.29M314.94 181.49V185.29M324.33 181.49V185.29M333.72 181.49V185.29M343.11 181.49V185.29" stroke="#FFFFFF" stroke-width="0.8" stroke-opacity="0.3" fill="none"/>
<path d="M98.97 276.37V280.16M117.75 253.60V257.39M145.91 230.83V234.62M164.69 219.44V223.24M174.09 215.65V219.44M183.47 211.85V215.65M192.87 208.06V211.85M202.25 204.26V208.06M221.03 200.47V204.26M230.43 196.67V200.47M239.81 196.67V200.47M249.21 196.67V200.47M258.60 192.88V196.67M267.99 192.88V196.67M277.38 189.08V192.88M286.76 189.08V192.88M296.15 189.08V192.88M305.55 185.29V189.08M314.94 185.29V189.08M324.33 185.29V189.08M333.72 185.29V189.08M343.11 185.29V189.08" stroke="#FFFFFF" stroke-width="0.8" stroke-opacity="0.35" fill="none"/>
<path d="M80.19 310.52V314.32M108.35 264.98V268.78M127.13 246.01V249.80M136.53 238.42V242.21M155.31 227.03V230.83M164.69 223.24V227.03M202.25 208.06V211.85M211.65 204.26V208.06M230.43 200.47V204.26M239.81 200.47V204.26M249.21 200.47V204.26M258.60 196.67V200.47M267.99 196.67V200.47M277.38 192.88V196.67M286.76 192.88V196.67M296.15 192.88V196.67M305.55 189.08V192.88M314.94 189.08V192.88M324.33 189.08V192.88M333.72 189.08V192.88M343.11 189.08V192.88" stroke="#FFFFFF" stroke-width="0.8" stroke-opacity="0.4" fill="none"/>
<path d="M89.57 295.34V299.14M98.97 280.16V283.96M117.75 257.39V261.19M127.13 249.80V253.60M136.53 242.21V246.01M145.91 234.62V238.42M155.31 230.83V234.62M174.09 219.44V223.24M183.47 215.65V219.44M192.87 211.85V215.65M211.65 208.06V211.85M221.03 204.26V208.06M230.43 204.26V208.06M258.60 200.47V204.26M277.38 196.67V200.47M286.76 196.67V200.47M296.15 196.67V200.47M305.55 192.88V196.67M314.94 192.88V196.67M324.33 192.88V196.67M333.72 192.88V196.67M343.11 192.88V196.67" stroke="#FFFFFF" stroke-width="0.8" stroke-opacity="0.45" fill="none"/>
<path d="M80.19 314.32V318.11M108.35 268.78V272.57M145.91 238.42V242.21M164.69 227.03V230.83M174.09 223.24V227.03M183.47 219.44V223.24M192.87 215.65V219.44M202.25 211.85V215.65M211.65 211.85V215.65M221.03 208.06V211.85M230.43 208.06V211.85M239.81 204.26V208.06M249.21 204.26V208.06M258.60 204.26V208.06M267.99 200.47V204.26M277.38 200.47V204.26M286.76 200.47V204.26M305.55 196.67V200.47M314.94 196.67V200.47M324.33 196.67V200.47" stroke="#FFFFFF" stroke-width="0.8" stroke-opacity="0.5" fill="none"/>
<path d="M89.57 299.14V302.93M98.97 283.96V287.75M108.35 272.57V276.37M117.75 261.19V264.98M127.13 253.60V257.39M136.53 246.01V249.80M155.31 234.62V238.42M164.69 230.83V234.62M174.09 227.03V230.83M183.47 223.24V227.03M192.87 219.44V223.24M202.25 215.65V219.44M221.03 211.85V215.65M239.81 208.06V211.85M249.21 208.06V211.85M267.99 204.26V208.06M277.38 204.26V208.06M296.15 200.47V204.26M305.55 200.47V204.26M314.94 200.47V204.26M333.72 196.67V200.47M343.11 196.67V200.47" stroke="#FFFFFF" stroke-width="0.8" stroke-opacity="0.55" fill="none"/>
<path d="M80.19 318.11V321.91M98.97 287.75V291.55M117.75 264.98V268.78M127.13 257.39V261.19M136.53 249.80V253.60M145.91 242.21V246.01M155.31 238.42V242.21M202.25 219.44V223.24M211.65 215.65V219.44M221.03 215.65V219.44M230.43 211.85V215.65M239.81 211.85V215.65M249.21 211.85V215.65M258.60 208.06V211.85M267.99 208.06V211.85M286.76 204.26V208.06M296.15 204.26V208.06M305.55 204.26V208.06M324.33 200.47V204.26M333.72 200.47V204.26M343.11 200.47V204.26" stroke="#FFFFFF" stroke-width="0.8" stroke-opacity="0.6" fill="none"/>
<path d="M89.57 302.93V321.91M98.97 291.55V321.91M108.35 276.37V321.91M117.75 268.78V321.91M127.13 261.19V321.91M136.53 253.60V321.91M145.91 246.01V321.91M155.31 242.21V321.91M164.69 234.62V321.91M174.09 230.83V321.91M183.47 227.03V321.91M192.87 223.24V321.91M202.25 223.24V321.91M211.65 219.44V321.91M221.03 219.44V321.91M230.43 215.65V321.91M239.81 215.65V321.91M249.21 215.65V321.91M258.60 211.85V321.91M267.99 211.85V321.91M277.38 208.06V321.91M286.76 208.06V321.91M296.15 208.06V321.91M305.55 208.06V321.91M314.94 204.26V321.91M324.33 204.26V321.91M333.72 204.26V321.91M343.11 204.26V321.91" stroke="#FFFFFF" stroke-width="0.8" stroke-opacity="0.65" fill="none"/>
<path d="M80.19 306.73H89.57M98.97 264.98H108.35M108.35 253.60H117.75M117.75 242.21H127.13M127.13 230.83H136.53M136.53 223.24H145.91M145.91 219.44H155.31M145.91 215.65H155.31M155.31 211.85H164.69M155.31 208.06H164.69M164.69 204.26H174.09M174.09 200.47H183.47M174.09 196.67H192.87M183.47 192.88H202.25M192.87 189.08H211.65M202.25 185.29H221.03M211.65 181.49H239.81M221.03 177.70H258.60M239.81 173.90H277.38M258.60 170.11H305.55M277.38 166.31H333.72M305.55 162.52H352.50M333.72 158.72H352.50" stroke="#FFFFFF" stroke-width="0.8" stroke-opacity="0.05" fill="none"/>
<path d="M89.57 287.75H98.97M98.97 268.78H108.35M108.35 257.39H117.75M117.75 246.01H127.13M127.13 238.42H136.53M127.13 234.62H136.53M136.53 227.03H145.91M145.91 223.24H155.31M155.31 215.65H164.69M164.69 211.85H174.09M164.69 208.06H174.09M174.09 204.26H183.47M183.47 200.47H192.87M192.87 196.67H202.25M202.25 192.88H221.03M211.65 189.08H230.43M221.03 185.29H258.60M239.81 181.49H267.99M258.60 177.70H296.15M277.38 173.90H324.33M305.55 170.11H352.50M333.72 166.31H352.50" stroke="#FFFFFF" stroke-width="0.8" stroke-opacity="0.1" fill="none"/>
<path d="M89.57 291.55H98.97M98.97 272.57H108.35M117.75 249.80H127.13M136.53 230.83H145.91M145.91 227.03H155.31M155.31 219.44H164.69M164.69 215.65H174.09M174.09 211.85H183.47M174.09 208.06H192.87M183.47 204.26H202.25M192.87 200.47H211.65M202.25 196.67H221.03M221.03 192.88H239.81M230.43 189.08H267.99M258.60 185.29H286.76M267.99 181.49H314.94M296.15 177.70H352.50M324.33 173.90H352.50" stroke="#FFFFFF" stroke-width="0.8" stroke-opacity="0.15" fill="none"/>
<path d="M108.35 261.19H117.75M127.13 242.21H136.53M136.53 234.62H145.91M145.91 230.83H155.31M155.31 223.24H164.69M164.69 219.44H174.09M174.09 215.65H183.47M183.47 211.85H192.87M192.87 208.06H202.25M202.25 204.26H211.65M211.65 200.47H230.43M221.03 196.67H258.60M239.81 192.88H277.38M267.99 189.08H305.55M286.76 185.29H352.50M314.94 181.49H352.50" stroke="#FFFFFF" stroke-width="0.8" stroke-opacity="0.2" fill="none"/>
<path d="M80.19 310.52H89.57M89.57 295.34H98.97M98.97 276.37H108.35M108.35 264.98H117.75M117.75 253.60H127.13M127.13 246.01H136.53M136.53 238.42H145.91M145.91 234.62H155.31M155.31 227.03H164.69M164.69 223.24H174.09M174.09 219.44H183.47M183.47 215.65H192.87M192.87 211.85H202.25M202.25 208.06H211.65M211.65 204.26H230.43M230.43 200.47H258.60M258.60 196.67H286.76M277.38 192.88H314.94M305.55 189.08H352.50" stroke="#FFFFFF" stroke-width="0.8" stroke-opacity="0.25" fill="none"/>
<path d="M80.19 314.32H89.57M98.97 280.16H108.35M108.35 268.78H117.75M117.75 257.39H127.13M127.13 249.80H136.53M136.53 242.21H145.91M145.91 238.42H155.31M155.31 230.83H164.69M164.69 227.03H174.09M174.09 223.24H183.47M183.47 219.44H192.87M192.87 215.65H202.25M202.25 211.85H221.03M211.65 208.06H239.81M230.43 204.26H267.99M258.60 200.47H296.15M286.76 196.67H343.11M314.94 192.88H352.50" stroke="#FFFFFF" stroke-width="0.8" stroke-opacity="0.3" fill="none"/>
<path d="M80.19 318.11H89.57M89.57 299.14H98.97M98.97 283.96H108.35M108.35 272.57H117.75M117.75 261.19H127.13M127.13 253.60H136.53M136.53 246.01H145.91M145.91 242.21H155.31M155.31 234.62H164.69M164.69 230.83H174.09M174.09 227.03H183.47M183.47 223.24H192.87M192.87 219.44H202.25M202.25 215.65H221.03M221.03 211.85H239.81M239.81 208.06H267.99M267.99 204.26H305.55M296.15 200.47H352.50M343.11 196.67H352.50" stroke="#FFFFFF" stroke-width="0.8" stroke-opacity="0.35" fill="none"/>
<path d="M89.57 318.11H352.50M89.57 314.32H352.50M89.57 310.52H352.50M89.57 306.73H352.50M89.57 302.93H352.50M98.97 299.14H352.50M98.97 295.34H352.50M98.97 291.55H352.50M98.97 287.75H352.50M108.35 283.96H352.50M108.35 280.16H352.50M108.35 276.37H352.50M117.75 272.57H352.50M117.75 268.78H352.50M117.75 264.98H352.50M127.13 261.19H352.50M127.13 257.39H352.50M136.53 253.60H352.50M136.53 249.80H352.50M145.91 246.01H352.50M155.31 242.21H352.50M155.31 238.42H352.50M164.69 234.62H352.50M174.09 230.83H352.50M183.47 227.03H352.50M192.87 223.24H352.50M202.25 219.44H352.50M221.03 215.65H352.50M239.81 211.85H352.50M267.99 208.06H352.50M305.55 204.26H352.50" stroke="#FFFFFF" stroke-width="0.8" stroke-opacity="0.4" fill="none"/>
<g fill="none" stroke="#000000" stroke-width="1.55" stroke-linejoin="round" stroke-linecap="butt">
<path d="M81.0,320.6 L82.1,317.0 L84.2,313.5 L87.2,309.4 L90.3,303.8 L93.4,297.6 L96.4,291.5 L100.3,285.0 L104.1,278.2 L108.2,271.9 L112.2,267.0 L116.3,262.9 L120.4,258.2 L125.5,253.6 L130.6,249.3 L136.1,244.4 L141.2,240.8 L147.3,237.2 L153.4,233.1 L159.6,229.1 L170.0,223.7 L180.0,218.9 L190.2,214.8 L200.4,211.2 L210.6,208.2 L220.8,205.6 L229.0,203.6 L236.0,202.2 L242.1,201.2 L248.2,200.9 L254.4,201.2 L260.5,199.7 L266.6,198.2 L272.7,197.1 L279.9,196.4 L292.0,195.1 L302.2,193.8 L312.4,192.2 L322.6,191.5 L332.8,190.7 L347.8,190.2"/>
<path d="M91.6,320.6 L92.9,315.0 L95.4,311.9 L99.5,307.3 L103.6,301.7 L107.7,296.6 L111.7,291.5 L116.8,284.9 L122.4,279.1 L128.6,273.5 L134.7,268.7 L140.5,264.9 L146.6,260.6 L153.4,256.0 L161.6,251.9 L169.8,247.8 L180.0,244.5 L190.2,240.7 L200.4,237.1 L210.6,234.6 L217.8,232.7 L225.9,232.0 L236.0,230.6 L241.1,229.2 L246.2,228.2 L252.3,228.2 L258.4,227.4 L266.6,226.1 L272.7,224.8 L280.9,224.4 L292.0,221.9 L302.2,222.2 L312.4,221.7 L322.6,220.5 L332.8,219.7 L347.8,218.9"/>
<path d="M347.8,242.1 L332.8,243.2 L312.4,244.0 L292.0,244.6 L282.9,246.0 L274.8,246.0 L266.6,246.5 L260.5,247.5 L254.4,247.3 L248.2,247.8 L242.1,249.6 L236.0,251.5 L225.9,251.4 L220.8,251.9 L210.6,253.5 L200.4,255.5 L190.2,258.9 L185.1,261.4 L180.0,263.3 L173.9,265.4 L168.8,267.4 L161.6,270.5 L154.5,274.6 L147.3,278.2 L141.2,282.2 L136.1,285.8 L131.0,289.9 L127.3,295.0 L123.3,299.6 L121.7,302.6 L122.2,305.7 L125.3,308.8 L130.4,309.6 L140.6,309.6 L150.8,309.3 L166.0,308.8 L176.2,308.3 L186.4,307.7 L196.6,307.2 L206.8,306.5 L222.0,305.5 L236.0,305.7 L246.2,304.9 L256.4,304.2 L266.6,303.5 L276.8,302.8 L292.0,302.6 L302.2,302.2 L312.4,301.7 L322.6,301.2 L332.8,300.7 L347.8,299.7"/>
<path d="M347.8,269.8 L338.9,267.5 L332.8,267.2 L322.6,267.2 L312.4,268.0 L302.2,267.8 L291.8,267.5 L286.4,268.4 L280.0,269.5 L273.6,270.7 L268.2,270.5 L263.6,270.0 L257.3,270.4 L250.0,270.9 L246.2,270.7 L242.1,271.2 L239.1,273.3 L236.0,275.2 L233.1,274.7 L228.0,273.7 L222.9,273.7 L217.8,275.7 L212.7,278.8 L206.5,281.3 L200.4,283.7 L195.3,285.4 L190.2,287.1 L185.1,290.0 L190.2,292.5 L195.3,293.9 L202.4,294.4 L210.6,294.1 L216.7,293.6 L222.9,292.2 L229.0,291.5 L236.0,291.2 L246.2,290.6 L256.4,289.6 L266.6,288.6 L276.8,287.5 L292.0,286.4 L302.2,285.6 L312.4,284.1 L322.6,282.8 L334.9,281.5 L340.0,281.0 L347.8,277.4"/>
<path d="M111.5,320.5 L120.2,319.5 L130.4,318.5 L140.6,317.7 L150.8,317.1 L166.0,316.9 L176.2,316.6 L186.4,316.1 L196.6,315.6 L206.8,315.1 L222.0,314.4 L236.0,314.8 L246.2,314.1 L256.4,313.4 L266.6,312.8 L276.8,312.3 L292.0,312.5 L302.2,312.5 L312.4,312.3 L322.6,312.1 L332.8,311.8 L347.8,311.1"/>
</g>
<text x="348.0" y="190.7" text-anchor="middle" style="font-family:'Liberation Sans',Arial,sans-serif;font-size:11.5px;fill:#111111;stroke:#111111;stroke-width:0.3px">0.05</text>
<text x="347.4" y="218.7" text-anchor="middle" style="font-family:'Liberation Sans',Arial,sans-serif;font-size:11.5px;fill:#111111;stroke:#111111;stroke-width:0.3px">0.1</text>
<text x="348.4" y="242.0" text-anchor="middle" style="font-family:'Liberation Sans',Arial,sans-serif;font-size:11.5px;fill:#111111;stroke:#111111;stroke-width:0.3px">0.13</text>
<text x="329.2" y="267.0" text-anchor="middle" style="font-family:'Liberation Sans',Arial,sans-serif;font-size:11.5px;fill:#111111;stroke:#111111;stroke-width:0.3px">0.15</text>
<text x="347.4" y="311.3" text-anchor="middle" style="font-family:'Liberation Sans',Arial,sans-serif;font-size:11.5px;fill:#111111;stroke:#111111;stroke-width:0.3px">0.1</text>
<circle cx="216.5" cy="286.0" r="4.3" fill="#FFD500"/>
<rect x="57.5" y="7.5" width="309.0" height="329.0" fill="none" stroke="#333333" stroke-width="1.07"/>
<g stroke="#333333" stroke-width="1.07"><line x1="52.8" y1="327.60" x2="57.5" y2="327.60"/><line x1="52.8" y1="251.70" x2="57.5" y2="251.70"/><line x1="52.8" y1="175.80" x2="57.5" y2="175.80"/><line x1="52.8" y1="99.90" x2="57.5" y2="99.90"/><line x1="52.8" y1="24.00" x2="57.5" y2="24.00"/><line x1="66.10" y1="336.5" x2="66.10" y2="340.8"/><line x1="160.00" y1="336.5" x2="160.00" y2="340.8"/><line x1="253.90" y1="336.5" x2="253.90" y2="340.8"/><line x1="347.80" y1="336.5" x2="347.80" y2="340.8"/></g>
<text x="50.5" y="332.85" text-anchor="end" style="font-family:'Liberation Sans',Arial,sans-serif;font-size:14.9px;fill:#4D4D4D">0</text>
<text x="50.5" y="256.95" text-anchor="end" style="font-family:'Liberation Sans',Arial,sans-serif;font-size:14.9px;fill:#4D4D4D">10</text>
<text x="50.5" y="181.05" text-anchor="end" style="font-family:'Liberation Sans',Arial,sans-serif;font-size:14.9px;fill:#4D4D4D">20</text>
<text x="50.5" y="105.15" text-anchor="end" style="font-family:'Liberation Sans',Arial,sans-serif;font-size:14.9px;fill:#4D4D4D">30</text>
<text x="50.5" y="29.25" text-anchor="end" style="font-family:'Liberation Sans',Arial,sans-serif;font-size:14.9px;fill:#4D4D4D">40</text>
<text x="66.40" y="366.0" text-anchor="end" style="font-family:'Liberation Sans',Arial,sans-serif;font-size:14.9px;fill:#4D4D4D">0</text>
<text x="160.30" y="366.0" text-anchor="end" style="font-family:'Liberation Sans',Arial,sans-serif;font-size:14.9px;fill:#4D4D4D">10</text>
<text x="254.20" y="366.0" text-anchor="end" style="font-family:'Liberation Sans',Arial,sans-serif;font-size:14.9px;fill:#4D4D4D">20</text>
<text x="348.10" y="366.0" text-anchor="end" style="font-family:'Liberation Sans',Arial,sans-serif;font-size:14.9px;fill:#4D4D4D">30</text>
<text x="211.7" y="384.8" text-anchor="middle" style="font-family:'Liberation Sans',Arial,sans-serif;font-size:15.2px;font-weight:bold;fill:#000000">scale factor</text>
<text transform="translate(16.3,171.6) rotate(-90)" x="0" y="0" text-anchor="middle" style="font-family:'Liberation Sans',Arial,sans-serif;font-size:15.2px;font-weight:bold;fill:#000000">threshold <tspan dx="1" letter-spacing="0.7">[°]</tspan></text>
<text x="382.5" y="88.9" style="font-family:'Liberation Sans',Arial,sans-serif;font-size:15px;font-weight:bold;fill:#000000;font-size:15.2px">F-score, beta = 3</text>
<defs><linearGradient id="cb" x1="0" y1="0" x2="0" y2="1"><stop offset="0.000" stop-color="#0280b8"/><stop offset="0.050" stop-color="#2286bc"/><stop offset="0.100" stop-color="#348cbf"/><stop offset="0.150" stop-color="#4292c3"/><stop offset="0.200" stop-color="#5098c6"/><stop offset="0.250" stop-color="#5c9eca"/><stop offset="0.300" stop-color="#68a5cd"/><stop offset="0.350" stop-color="#74abd1"/><stop offset="0.400" stop-color="#7fb1d4"/><stop offset="0.450" stop-color="#8ab8d8"/><stop offset="0.500" stop-color="#95bedc"/><stop offset="0.550" stop-color="#a0c4df"/><stop offset="0.600" stop-color="#abcbe3"/><stop offset="0.650" stop-color="#b5d1e6"/><stop offset="0.700" stop-color="#c0d8ea"/><stop offset="0.750" stop-color="#cadeed"/><stop offset="0.800" stop-color="#d5e5f1"/><stop offset="0.850" stop-color="#dfebf4"/><stop offset="0.900" stop-color="#eaf2f8"/><stop offset="0.950" stop-color="#f5f8fb"/><stop offset="1.000" stop-color="#ffffff"/></linearGradient></defs>
<rect x="382.0" y="98.9" width="24.2" height="117.29999999999998" fill="url(#cb)"/>
<g stroke="#FFFFFF" stroke-width="1.07" stroke-opacity="0.65"><line x1="382.0" y1="216.20" x2="386.8" y2="216.20"/><line x1="401.4" y1="216.20" x2="406.2" y2="216.20"/><line x1="382.0" y1="179.01" x2="386.8" y2="179.01"/><line x1="401.4" y1="179.01" x2="406.2" y2="179.01"/><line x1="382.0" y1="141.82" x2="386.8" y2="141.82"/><line x1="401.4" y1="141.82" x2="406.2" y2="141.82"/><line x1="382.0" y1="104.63" x2="386.8" y2="104.63"/><line x1="401.4" y1="104.63" x2="406.2" y2="104.63"/></g>
<text x="414.0" y="221.30" style="font-family:'Liberation Sans',Arial,sans-serif;font-size:15px;font-weight:bold;fill:#000000">0.00</text>
<text x="414.0" y="184.11" style="font-family:'Liberation Sans',Arial,sans-serif;font-size:15px;font-weight:bold;fill:#000000">0.05</text>
<text x="414.0" y="146.92" style="font-family:'Liberation Sans',Arial,sans-serif;font-size:15px;font-weight:bold;fill:#000000">0.10</text>
<text x="414.0" y="109.73" style="font-family:'Liberation Sans',Arial,sans-serif;font-size:15px;font-weight:bold;fill:#000000">0.15</text>
<circle cx="394.3" cy="247.4" r="4.3" fill="#FFD500"/>
<text x="414.0" y="253.4" style="font-family:'Liberation Sans',Arial,sans-serif;font-size:15px;font-weight:bold;fill:#000000;font-size:15.2px">selected optimum</text>
</g>
</svg>
</body></html>
